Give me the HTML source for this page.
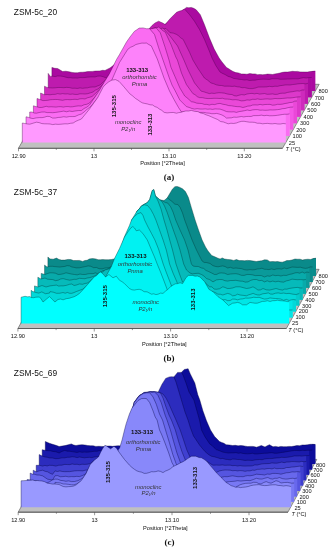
<!DOCTYPE html><html><head><meta charset="utf-8"><title>ZSM-5c</title>
<style>html,body{margin:0;padding:0;background:#fff;}svg{display:block;}
text{font-family:"Liberation Sans",sans-serif;fill:#111;}
.ax{font-size:5.65px;} .tt{font-size:8.4px;} .cap{font-family:"Liberation Serif",serif;font-weight:bold;font-size:9px;}
.bl{font-size:6px;font-weight:bold;} .it{font-size:5.9px;font-style:italic;fill:#333;}
</style></head><body>
<svg width="336" height="550" viewBox="0 0 336 550">
<rect width="336" height="550" fill="#fff"/>
<g id="chart-a">
<polygon points="18.4,148.3 282.5,148.3 319.2,84.3 55.1,84.3" fill="#C0C0C0" stroke="#505050" stroke-width="0.6"/>
<path d="M51.9,90.9 L51.9,67.4 L54.75,68.32 L57.6,68.5 L60.1,70 L62.6,71.5 L65.85,71.24 L69.1,71.8 L72.05,72.42 L75,72.8 L77.57,72.76 L80.13,72.27 L82.7,72.2 L85.15,71.96 L87.6,71.57 L90.05,71.47 L92.5,71.4 L95,71.09 L97.5,70.94 L100,70.89 L102.5,70.31 L105,70.5 L107.5,69.17 L110,68 L184.5,9 L186.4,7.4 L188.85,7.72 L191.3,7.4 L193.75,8.37 L196.2,9.8 L200.3,14.7 L204.4,24.5 L209.3,37.6 L214.2,49.1 L219.1,58 L222,62 L226.5,67.5 L228.7,68.74 L230.9,70.25 L233.1,71.5 L235.83,72.61 L238.57,72.94 L241.3,73.9 L244.15,74.04 L247,74.22 L249.85,73.6 L252.7,73.9 L255.18,73.89 L257.65,74.65 L260.12,74.45 L262.6,74.7 L265.08,74.51 L267.56,74.12 L270.04,74.23 L272.52,74.49 L275,73.9 L277.5,73.56 L280,73.03 L282.5,72.36 L285,72 L287.5,72.06 L290,71.64 L292.5,71.32 L295,71.5 L297.5,71.39 L300,71.88 L302.5,71.94 L305,72 L307.55,71.98 L310.1,71.58 L312.65,71.37 L315.2,71 L315.2,90.9 Z" fill="#AA0AA0"/>
<polygon points="311.7,71.45 312.65,71.37 315.2,71 315.2,90.9 311.7,90.9" fill="#AA0AA0"/>
<path d="M51.9,90.9 L51.9,67.4 L54.75,68.32 L57.6,68.5 L60.1,70 L62.6,71.5 L65.85,71.24 L69.1,71.8 L72.05,72.42 L75,72.8 L77.57,72.76 L80.13,72.27 L82.7,72.2 L85.15,71.96 L87.6,71.57 L90.05,71.47 L92.5,71.4 L95,71.09 L97.5,70.94 L100,70.89 L102.5,70.31 L105,70.5 L107.5,69.17 L110,68 L184.5,9 L186.4,7.4 L188.85,7.72 L191.3,7.4 L193.75,8.37 L196.2,9.8 L200.3,14.7 L204.4,24.5 L209.3,37.6 L214.2,49.1 L219.1,58 L222,62 L226.5,67.5 L228.7,68.74 L230.9,70.25 L233.1,71.5 L235.83,72.61 L238.57,72.94 L241.3,73.9 L244.15,74.04 L247,74.22 L249.85,73.6 L252.7,73.9 L255.18,73.89 L257.65,74.65 L260.12,74.45 L262.6,74.7 L265.08,74.51 L267.56,74.12 L270.04,74.23 L272.52,74.49 L275,73.9 L277.5,73.56 L280,73.03 L282.5,72.36 L285,72 L287.5,72.06 L290,71.64 L292.5,71.32 L295,71.5 L297.5,71.39 L300,71.88 L302.5,71.94 L305,72 L307.55,71.98 L310.1,71.58 L312.65,71.37 L315.2,71" fill="none" stroke="rgba(70,0,70,0.7)" stroke-width="0.55" stroke-linejoin="round"/>
<path d="M48.2,97.35 L48.2,73.4 L50.3,76.4 L52.73,76.21 L55.17,76.58 L57.6,76 L60.33,76.11 L63.07,76.38 L65.8,77.2 L68.1,77.69 L70.4,77.68 L72.7,78.07 L75,78 L77.5,78.11 L80,77.54 L82.5,77.6 L85,77.5 L87.5,77.14 L90,76.97 L92.5,76.91 L95,77 L97.5,76.16 L100,76 L103,76.62 L106,78 L152,25.5 L155,23 L158.6,21.2 L162.7,23 L165.2,24.6 L170,18.8 L176.5,12.3 L179,11.21 L181.5,10.6 L184.5,9 L189.6,14.7 L194.5,21.3 L199.5,29.5 L204.4,39.3 L209.3,51 L212,58 L215.8,65.5 L220,72 L222.5,73.42 L225,74.5 L228.2,76.4 L230.93,77.14 L233.67,78.44 L236.4,78.8 L239.02,79.33 L241.64,79.52 L244.26,80 L246.88,79.82 L249.5,80.5 L252.35,80.26 L255.2,80.14 L258.05,79.56 L260.9,79.3 L263.72,79.17 L266.54,79.3 L269.36,79.43 L272.18,78.76 L275,78.8 L277.5,78.76 L280,79.26 L282.5,79.25 L285,79.15 L287.5,79.07 L290,79 L292.71,78.82 L295.43,78.84 L298.14,78.83 L300.85,78.16 L303.56,77.65 L306.27,78 L308.99,77.53 L311.7,77.5 L311.7,97.35 Z" fill="#BE1BAE"/>
<polygon points="308,77.7 308.99,77.53 311.7,77.5 311.7,97.35 308,97.35" fill="#AA0AA0"/>
<path d="M48.2,97.35 L48.2,73.4 L50.3,76.4 L52.73,76.21 L55.17,76.58 L57.6,76 L60.33,76.11 L63.07,76.38 L65.8,77.2 L68.1,77.69 L70.4,77.68 L72.7,78.07 L75,78 L77.5,78.11 L80,77.54 L82.5,77.6 L85,77.5 L87.5,77.14 L90,76.97 L92.5,76.91 L95,77 L97.5,76.16 L100,76 L103,76.62 L106,78 L152,25.5 L155,23 L158.6,21.2 L162.7,23 L165.2,24.6 L170,18.8 L176.5,12.3 L179,11.21 L181.5,10.6 L184.5,9 L189.6,14.7 L194.5,21.3 L199.5,29.5 L204.4,39.3 L209.3,51 L212,58 L215.8,65.5 L220,72 L222.5,73.42 L225,74.5 L228.2,76.4 L230.93,77.14 L233.67,78.44 L236.4,78.8 L239.02,79.33 L241.64,79.52 L244.26,80 L246.88,79.82 L249.5,80.5 L252.35,80.26 L255.2,80.14 L258.05,79.56 L260.9,79.3 L263.72,79.17 L266.54,79.3 L269.36,79.43 L272.18,78.76 L275,78.8 L277.5,78.76 L280,79.26 L282.5,79.25 L285,79.15 L287.5,79.07 L290,79 L292.71,78.82 L295.43,78.84 L298.14,78.83 L300.85,78.16 L303.56,77.65 L306.27,78 L308.99,77.53 L311.7,77.5" fill="none" stroke="rgba(70,0,70,0.7)" stroke-width="0.55" stroke-linejoin="round"/>
<path d="M44.5,103.8 L44.5,86.2 L47,87.4 L49.5,87.8 L52.35,87.98 L55.2,87.81 L58.05,87.47 L60.9,87.5 L63.72,87.71 L66.54,87.39 L69.36,87.56 L72.18,88.27 L75,88.2 L77.5,88.45 L80,87.9 L82.5,88.34 L85,88 L87.5,87.85 L90,87.17 L92.5,87.01 L95,87 L97.5,85.94 L100,85 L160,30 L163,28.9 L166,28.5 L170,32.7 L173.25,33.11 L176.5,34.4 L178.7,35.9 L180.9,38.04 L183.1,39.3 L189.6,52.4 L192.9,60 L197.8,68.2 L204.4,78 L207.65,80.19 L210.9,82.9 L213.63,83.7 L216.37,84.86 L219.1,85.4 L221.78,85.5 L224.45,86.2 L227.12,86.14 L229.8,86.2 L232.25,86.41 L234.7,86.15 L237.15,86.8 L239.6,87 L242.07,87.73 L244.55,87.57 L247.03,88.16 L249.5,88.6 L252.35,88.58 L255.2,88.1 L258.05,87.08 L260.9,87 L263.72,87 L266.54,86.92 L269.36,86.37 L272.18,86.71 L275,86.2 L277.5,86.36 L280,85.69 L282.5,85.4 L285,84.98 L287.5,84.91 L290,85 L292.57,84.55 L295.14,84.3 L297.71,83.89 L300.29,83.66 L302.86,83.5 L305.43,83.88 L308,83.3 L308,103.8 Z" fill="#CE2ABC"/>
<polygon points="304.4,83.73 305.43,83.88 308,83.3 308,103.8 304.4,103.8" fill="#BE1BAE"/>
<path d="M44.5,103.8 L44.5,86.2 L47,87.4 L49.5,87.8 L52.35,87.98 L55.2,87.81 L58.05,87.47 L60.9,87.5 L63.72,87.71 L66.54,87.39 L69.36,87.56 L72.18,88.27 L75,88.2 L77.5,88.45 L80,87.9 L82.5,88.34 L85,88 L87.5,87.85 L90,87.17 L92.5,87.01 L95,87 L97.5,85.94 L100,85 L160,30 L163,28.9 L166,28.5 L170,32.7 L173.25,33.11 L176.5,34.4 L178.7,35.9 L180.9,38.04 L183.1,39.3 L189.6,52.4 L192.9,60 L197.8,68.2 L204.4,78 L207.65,80.19 L210.9,82.9 L213.63,83.7 L216.37,84.86 L219.1,85.4 L221.78,85.5 L224.45,86.2 L227.12,86.14 L229.8,86.2 L232.25,86.41 L234.7,86.15 L237.15,86.8 L239.6,87 L242.07,87.73 L244.55,87.57 L247.03,88.16 L249.5,88.6 L252.35,88.58 L255.2,88.1 L258.05,87.08 L260.9,87 L263.72,87 L266.54,86.92 L269.36,86.37 L272.18,86.71 L275,86.2 L277.5,86.36 L280,85.69 L282.5,85.4 L285,84.98 L287.5,84.91 L290,85 L292.57,84.55 L295.14,84.3 L297.71,83.89 L300.29,83.66 L302.86,83.5 L305.43,83.88 L308,83.3" fill="none" stroke="rgba(70,0,70,0.7)" stroke-width="0.55" stroke-linejoin="round"/>
<path d="M40.6,110.25 L40.6,93 L44.5,94.7 L47.23,94.51 L49.97,94.78 L52.7,94.4 L55.18,94.37 L57.65,93.62 L60.12,94.08 L62.6,93.6 L65.08,93.98 L67.56,93.84 L70.04,94.31 L72.52,94.04 L75,94.4 L77.5,94.45 L80,93.81 L82.5,93.86 L85,94 L87.67,93.68 L90.33,92.86 L93,92 L95.5,90.08 L98,89 L158,29 L160.5,28.78 L163,28 L170,36 L177.5,45.9 L183.9,60 L188,69.8 L194.5,82.9 L201.1,91.1 L203.83,91.81 L206.57,92.73 L209.3,93.6 L211.75,93.15 L214.2,93.45 L216.65,93 L219.1,92.7 L221.78,92.89 L224.45,93.14 L227.12,93.96 L229.8,94.4 L232,94.5 L234.2,95.68 L236.4,96 L239.02,95.2 L241.64,94.6 L244.26,94.96 L246.88,94.03 L249.5,93.6 L252,93.39 L254.5,93.86 L257,93.35 L259.5,94.12 L262,93.8 L264.6,93.54 L267.2,94.31 L269.8,94.2 L272.4,93.92 L275,94.4 L277.5,94.29 L280,93.39 L282.5,93.2 L285,93.21 L287.5,92.42 L290,92 L292.4,91.68 L294.8,91.24 L297.2,90.87 L299.6,91.1 L302,90 L304.4,90 L304.4,110.25 Z" fill="#DC38CA"/>
<polygon points="300.7,90.6 302,90 304.4,90 304.4,110.25 300.7,110.25" fill="#CE2ABC"/>
<path d="M40.6,110.25 L40.6,93 L44.5,94.7 L47.23,94.51 L49.97,94.78 L52.7,94.4 L55.18,94.37 L57.65,93.62 L60.12,94.08 L62.6,93.6 L65.08,93.98 L67.56,93.84 L70.04,94.31 L72.52,94.04 L75,94.4 L77.5,94.45 L80,93.81 L82.5,93.86 L85,94 L87.67,93.68 L90.33,92.86 L93,92 L95.5,90.08 L98,89 L158,29 L160.5,28.78 L163,28 L170,36 L177.5,45.9 L183.9,60 L188,69.8 L194.5,82.9 L201.1,91.1 L203.83,91.81 L206.57,92.73 L209.3,93.6 L211.75,93.15 L214.2,93.45 L216.65,93 L219.1,92.7 L221.78,92.89 L224.45,93.14 L227.12,93.96 L229.8,94.4 L232,94.5 L234.2,95.68 L236.4,96 L239.02,95.2 L241.64,94.6 L244.26,94.96 L246.88,94.03 L249.5,93.6 L252,93.39 L254.5,93.86 L257,93.35 L259.5,94.12 L262,93.8 L264.6,93.54 L267.2,94.31 L269.8,94.2 L272.4,93.92 L275,94.4 L277.5,94.29 L280,93.39 L282.5,93.2 L285,93.21 L287.5,92.42 L290,92 L292.4,91.68 L294.8,91.24 L297.2,90.87 L299.6,91.1 L302,90 L304.4,90" fill="none" stroke="rgba(70,0,70,0.7)" stroke-width="0.55" stroke-linejoin="round"/>
<path d="M37,116.7 L37,98.5 L39.95,99.45 L42.9,100.6 L45.35,100.51 L47.8,100.3 L50.25,99.76 L52.7,99.6 L55.18,99.48 L57.65,99.52 L60.12,99.94 L62.6,100.3 L65.08,99.69 L67.56,99.57 L70.04,99.74 L72.52,99.49 L75,99.3 L77.5,99.54 L80,98.81 L82.5,98.69 L85,99 L87.33,97.83 L89.67,97.25 L92,96.5 L97,92 L152,29 L154.2,28.04 L156.4,27.98 L158.6,27.1 L160.8,28.81 L163,30.82 L165.2,32 L170.9,44.3 L175.8,57 L177.4,60 L181.5,73.1 L186.4,84.5 L192.9,93.6 L195.1,94.74 L197.3,96.68 L199.5,97.6 L202.35,97.67 L205.2,98.3 L208.05,98.58 L210.9,98.5 L213.93,98.32 L216.97,98.34 L220,98.5 L222.45,98.26 L224.9,99.03 L227.35,99.1 L229.8,99.3 L232.68,99.83 L235.55,99.66 L238.43,100.07 L241.3,100.9 L244.15,100.71 L247,99.91 L249.85,100.14 L252.7,99.3 L255.16,99.4 L257.62,98.89 L260.08,99.39 L262.54,99.31 L265,99 L267.5,98.91 L270,99.16 L272.5,98.99 L275,98.5 L277.5,98.67 L280,98.63 L282.5,98.43 L285,98.21 L287.5,97.95 L290,98 L292.68,97.73 L295.35,97.31 L298.02,96.94 L300.7,96.8 L300.7,116.7 Z" fill="#EA48D8"/>
<polygon points="297,97.08 298.02,96.94 300.7,96.8 300.7,116.7 297,116.7" fill="#DC38CA"/>
<path d="M37,116.7 L37,98.5 L39.95,99.45 L42.9,100.6 L45.35,100.51 L47.8,100.3 L50.25,99.76 L52.7,99.6 L55.18,99.48 L57.65,99.52 L60.12,99.94 L62.6,100.3 L65.08,99.69 L67.56,99.57 L70.04,99.74 L72.52,99.49 L75,99.3 L77.5,99.54 L80,98.81 L82.5,98.69 L85,99 L87.33,97.83 L89.67,97.25 L92,96.5 L97,92 L152,29 L154.2,28.04 L156.4,27.98 L158.6,27.1 L160.8,28.81 L163,30.82 L165.2,32 L170.9,44.3 L175.8,57 L177.4,60 L181.5,73.1 L186.4,84.5 L192.9,93.6 L195.1,94.74 L197.3,96.68 L199.5,97.6 L202.35,97.67 L205.2,98.3 L208.05,98.58 L210.9,98.5 L213.93,98.32 L216.97,98.34 L220,98.5 L222.45,98.26 L224.9,99.03 L227.35,99.1 L229.8,99.3 L232.68,99.83 L235.55,99.66 L238.43,100.07 L241.3,100.9 L244.15,100.71 L247,99.91 L249.85,100.14 L252.7,99.3 L255.16,99.4 L257.62,98.89 L260.08,99.39 L262.54,99.31 L265,99 L267.5,98.91 L270,99.16 L272.5,98.99 L275,98.5 L277.5,98.67 L280,98.63 L282.5,98.43 L285,98.21 L287.5,97.95 L290,98 L292.68,97.73 L295.35,97.31 L298.02,96.94 L300.7,96.8" fill="none" stroke="rgba(70,0,70,0.7)" stroke-width="0.55" stroke-linejoin="round"/>
<path d="M33.4,123.15 L33.4,105.8 L36.5,106.71 L39.6,107.5 L41.8,107.45 L44,106.94 L46.2,106.3 L48.65,106.92 L51.1,106.75 L53.55,106.92 L56,107.1 L58.45,106.73 L60.9,106.68 L63.35,107.11 L65.8,106.6 L68.1,106.57 L70.4,106.9 L72.7,106.76 L75,106.3 L78.2,105.89 L81.4,106 L84.1,104.74 L86.8,104.31 L89.5,103 L95,97 L150,29 L153.1,28.45 L156.2,27.9 L160.3,32.8 L165.2,47.6 L169,60 L170.9,67.2 L174.9,76.4 L179.8,87.8 L184.7,96 L186.9,97.7 L189.1,99.64 L191.3,101.7 L194.03,102.13 L196.77,103.18 L199.5,103.4 L201.95,103.56 L204.4,104.41 L206.85,104.38 L209.3,105 L211.98,104.31 L214.65,104.6 L217.32,103.74 L220,103.4 L222.88,104.28 L225.75,104.73 L228.62,105.59 L231.5,105.8 L234.35,106.3 L237.2,106.67 L240.05,106.71 L242.9,107.5 L245.35,106.92 L247.8,106.1 L250.25,105.93 L252.7,105 L255.16,104.9 L257.62,105.01 L260.08,104.39 L262.54,104.91 L265,104.5 L267.5,104.43 L270,104.38 L272.5,105.19 L275,105 L277.5,104.3 L280,104.38 L282.5,104.14 L285,103.5 L287.4,103.15 L289.8,102.5 L292.2,102.36 L294.6,101.18 L297,101 L297,123.15 Z" fill="#F457E6"/>
<polygon points="293.2,101.87 294.6,101.18 297,101 297,123.15 293.2,123.15" fill="#EA48D8"/>
<path d="M33.4,123.15 L33.4,105.8 L36.5,106.71 L39.6,107.5 L41.8,107.45 L44,106.94 L46.2,106.3 L48.65,106.92 L51.1,106.75 L53.55,106.92 L56,107.1 L58.45,106.73 L60.9,106.68 L63.35,107.11 L65.8,106.6 L68.1,106.57 L70.4,106.9 L72.7,106.76 L75,106.3 L78.2,105.89 L81.4,106 L84.1,104.74 L86.8,104.31 L89.5,103 L95,97 L150,29 L153.1,28.45 L156.2,27.9 L160.3,32.8 L165.2,47.6 L169,60 L170.9,67.2 L174.9,76.4 L179.8,87.8 L184.7,96 L186.9,97.7 L189.1,99.64 L191.3,101.7 L194.03,102.13 L196.77,103.18 L199.5,103.4 L201.95,103.56 L204.4,104.41 L206.85,104.38 L209.3,105 L211.98,104.31 L214.65,104.6 L217.32,103.74 L220,103.4 L222.88,104.28 L225.75,104.73 L228.62,105.59 L231.5,105.8 L234.35,106.3 L237.2,106.67 L240.05,106.71 L242.9,107.5 L245.35,106.92 L247.8,106.1 L250.25,105.93 L252.7,105 L255.16,104.9 L257.62,105.01 L260.08,104.39 L262.54,104.91 L265,104.5 L267.5,104.43 L270,104.38 L272.5,105.19 L275,105 L277.5,104.3 L280,104.38 L282.5,104.14 L285,103.5 L287.4,103.15 L289.8,102.5 L292.2,102.36 L294.6,101.18 L297,101" fill="none" stroke="rgba(70,0,70,0.7)" stroke-width="0.55" stroke-linejoin="round"/>
<path d="M29.7,129.6 L29.7,112 L31.93,111.98 L34.17,113.04 L36.4,113.2 L39.1,112.55 L41.8,112.05 L44.5,112 L47.23,112.59 L49.97,112.59 L52.7,112.7 L55.43,112.45 L58.17,112.03 L60.9,111.6 L63.72,111.12 L66.54,111.79 L69.36,111.07 L72.18,111.53 L75,111 L78.2,110.58 L81.4,110.5 L84.1,108.49 L86.8,107.17 L89.5,105 L95,97 L99,91 L104,82.5 L109,74.5 L111.4,69.8 L116.5,59.5 L119.5,54.5 L126.5,42 L130,37 L134.3,31.4 L136.75,29.8 L139.2,28.1 L143.1,27.9 L146.35,28.68 L149.6,28.7 L154.5,34.5 L158.6,47.6 L163,60 L169.3,78 L172,85 L175,90.5 L179.8,100 L186.4,106.6 L189.1,107.41 L191.8,108.48 L194.5,109.1 L197.23,108.66 L199.97,109.06 L202.7,109.1 L205.17,108.86 L207.64,109.23 L210.11,109.03 L212.59,109.4 L215.06,108.91 L217.53,109.06 L220,109.1 L223.25,110.2 L226.5,111.6 L228.97,111.84 L231.45,111.92 L233.93,111.79 L236.4,112.4 L239.1,111.61 L241.8,111.21 L244.5,110.7 L247.23,110.04 L249.97,110.55 L252.7,109.9 L255.16,109.64 L257.62,109.67 L260.08,110.19 L262.54,110.1 L265,110.3 L267.5,110.21 L270,109.92 L272.5,110.01 L275,109.9 L277.5,109.61 L280,109.35 L282.5,108.68 L285,108.5 L287.73,107.75 L290.47,107.19 L293.2,107 L293.2,129.6 Z" fill="#FA6CF2"/>
<polygon points="289.5,107.38 290.47,107.19 293.2,107 293.2,129.6 289.5,129.6" fill="#F457E6"/>
<path d="M29.7,129.6 L29.7,112 L31.93,111.98 L34.17,113.04 L36.4,113.2 L39.1,112.55 L41.8,112.05 L44.5,112 L47.23,112.59 L49.97,112.59 L52.7,112.7 L55.43,112.45 L58.17,112.03 L60.9,111.6 L63.72,111.12 L66.54,111.79 L69.36,111.07 L72.18,111.53 L75,111 L78.2,110.58 L81.4,110.5 L84.1,108.49 L86.8,107.17 L89.5,105 L95,97 L99,91 L104,82.5 L109,74.5 L111.4,69.8 L116.5,59.5 L119.5,54.5 L126.5,42 L130,37 L134.3,31.4 L136.75,29.8 L139.2,28.1 L143.1,27.9 L146.35,28.68 L149.6,28.7 L154.5,34.5 L158.6,47.6 L163,60 L169.3,78 L172,85 L175,90.5 L179.8,100 L186.4,106.6 L189.1,107.41 L191.8,108.48 L194.5,109.1 L197.23,108.66 L199.97,109.06 L202.7,109.1 L205.17,108.86 L207.64,109.23 L210.11,109.03 L212.59,109.4 L215.06,108.91 L217.53,109.06 L220,109.1 L223.25,110.2 L226.5,111.6 L228.97,111.84 L231.45,111.92 L233.93,111.79 L236.4,112.4 L239.1,111.61 L241.8,111.21 L244.5,110.7 L247.23,110.04 L249.97,110.55 L252.7,109.9 L255.16,109.64 L257.62,109.67 L260.08,110.19 L262.54,110.1 L265,110.3 L267.5,110.21 L270,109.92 L272.5,110.01 L275,109.9 L277.5,109.61 L280,109.35 L282.5,108.68 L285,108.5 L287.73,107.75 L290.47,107.19 L293.2,107" fill="none" stroke="rgba(70,0,70,0.7)" stroke-width="0.55" stroke-linejoin="round"/>
<path d="M26,136.05 L26,116.8 L28.37,117.31 L30.73,118.16 L33.1,118.6 L36.35,117.87 L39.6,117.6 L42.08,117.63 L44.55,117.16 L47.02,116.34 L49.5,116.5 L52.7,118.1 L55.43,118.03 L58.17,117.46 L60.9,117.3 L63.72,116.72 L66.54,117.13 L69.36,116.57 L72.18,116.58 L75,116.5 L78.2,115.06 L81.4,114 L84.1,111.98 L86.8,109.5 L89.5,107.5 L92,105 L111.4,81 L119.5,62.5 L127.7,49.4 L130.43,47.34 L133.17,46.2 L135.9,44.5 L139.8,43.5 L142,43.07 L144.2,43.16 L146.4,43 L148.85,44.57 L151.3,45.9 L157.3,59 L164,78 L169.5,91 L174,99.5 L178.5,107.5 L181.5,112 L184,111.69 L186.5,112.28 L189,112.03 L191.5,112.23 L194,112.5 L196.5,112.08 L199,112.4 L201,112.4 L203.77,112.42 L206.53,112.96 L209.3,113.2 L211.75,113.71 L214.2,113.68 L216.65,113.42 L219.1,114 L222,115 L224.25,116.25 L226.5,118.1 L228.97,117.94 L231.45,117.8 L233.93,117.12 L236.4,117.3 L238.85,116.96 L241.3,116.51 L243.75,116.95 L246.2,116.5 L248.65,116.43 L251.1,116.47 L253.55,115.63 L256,115.6 L258.71,115.55 L261.43,115.15 L264.14,115.69 L266.86,115.34 L269.57,115.78 L272.29,115.73 L275,115.6 L277.42,115.31 L279.83,114.94 L282.25,114.52 L284.67,114.26 L287.08,114.27 L289.5,113.9 L289.5,136.05 Z" fill="#FD82FA"/>
<polygon points="285.8,114.27 287.08,114.27 289.5,113.9 289.5,136.05 285.8,136.05" fill="#FA6CF2"/>
<path d="M26,136.05 L26,116.8 L28.37,117.31 L30.73,118.16 L33.1,118.6 L36.35,117.87 L39.6,117.6 L42.08,117.63 L44.55,117.16 L47.02,116.34 L49.5,116.5 L52.7,118.1 L55.43,118.03 L58.17,117.46 L60.9,117.3 L63.72,116.72 L66.54,117.13 L69.36,116.57 L72.18,116.58 L75,116.5 L78.2,115.06 L81.4,114 L84.1,111.98 L86.8,109.5 L89.5,107.5 L92,105 L111.4,81 L119.5,62.5 L127.7,49.4 L130.43,47.34 L133.17,46.2 L135.9,44.5 L139.8,43.5 L142,43.07 L144.2,43.16 L146.4,43 L148.85,44.57 L151.3,45.9 L157.3,59 L164,78 L169.5,91 L174,99.5 L178.5,107.5 L181.5,112 L184,111.69 L186.5,112.28 L189,112.03 L191.5,112.23 L194,112.5 L196.5,112.08 L199,112.4 L201,112.4 L203.77,112.42 L206.53,112.96 L209.3,113.2 L211.75,113.71 L214.2,113.68 L216.65,113.42 L219.1,114 L222,115 L224.25,116.25 L226.5,118.1 L228.97,117.94 L231.45,117.8 L233.93,117.12 L236.4,117.3 L238.85,116.96 L241.3,116.51 L243.75,116.95 L246.2,116.5 L248.65,116.43 L251.1,116.47 L253.55,115.63 L256,115.6 L258.71,115.55 L261.43,115.15 L264.14,115.69 L266.86,115.34 L269.57,115.78 L272.29,115.73 L275,115.6 L277.42,115.31 L279.83,114.94 L282.25,114.52 L284.67,114.26 L287.08,114.27 L289.5,113.9" fill="none" stroke="rgba(70,0,70,0.7)" stroke-width="0.55" stroke-linejoin="round"/>
<path d="M22.3,142.5 L22.3,123 L24.8,123.47 L27.3,123.96 L29.8,124.2 L32,123.52 L34.2,122.85 L36.4,122.2 L39.1,122.59 L41.8,123.57 L44.5,123.8 L47.23,123.85 L49.97,123.97 L52.7,124.6 L55.47,124.17 L58.23,124.39 L61,124.2 L65,123.8 L67.73,123.86 L70.47,123.3 L73.2,123 L75.93,121.25 L78.67,120.11 L81.4,119 L89.5,109 L97.7,97.6 L103.2,87 L106,84 L108.95,81.69 L111.9,80.1 L115.5,79.6 L119,81.3 L123.8,86.7 L129.8,93.8 L132.75,96.03 L135.7,98.6 L137.85,99.9 L140,101.5 L142.25,102.82 L144.5,103.4 L147.23,103.92 L149.97,104.75 L152.7,105 L154.9,106.61 L157.1,107.32 L159.3,109 L161.75,110.37 L164.2,112.4 L167.1,112.9 L170,112.6 L173.25,112.45 L176.5,113.2 L178.7,112.61 L180.9,112.4 L183.1,111.6 L185.83,110.97 L188.57,111.03 L191.3,110.4 L194.55,111.34 L197.8,111.6 L200.53,112.97 L203.27,113.55 L206,114.8 L208.73,115.69 L211.47,116.86 L214.2,118.1 L217.45,119.43 L220.7,121.6 L223.2,121.9 L225.7,122.83 L228.2,123.8 L230.93,123.25 L233.67,123.48 L236.4,123 L238.85,122.05 L241.3,121.4 L244.03,121.27 L246.77,121.76 L249.5,122.2 L252.12,122.18 L254.74,122.41 L257.36,123.25 L259.98,123.25 L262.6,123.8 L265.08,123.53 L267.56,123.4 L270.04,123.72 L272.52,123.82 L275,123.5 L277.7,123.97 L280.4,124.03 L283.1,123.49 L285.8,123.8 L285.8,142.5 Z" fill="#FF99FF"/>
<path d="M22.3,142.5 L22.3,123 L24.8,123.47 L27.3,123.96 L29.8,124.2 L32,123.52 L34.2,122.85 L36.4,122.2 L39.1,122.59 L41.8,123.57 L44.5,123.8 L47.23,123.85 L49.97,123.97 L52.7,124.6 L55.47,124.17 L58.23,124.39 L61,124.2 L65,123.8 L67.73,123.86 L70.47,123.3 L73.2,123 L75.93,121.25 L78.67,120.11 L81.4,119 L89.5,109 L97.7,97.6 L103.2,87 L106,84 L108.95,81.69 L111.9,80.1 L115.5,79.6 L119,81.3 L123.8,86.7 L129.8,93.8 L132.75,96.03 L135.7,98.6 L137.85,99.9 L140,101.5 L142.25,102.82 L144.5,103.4 L147.23,103.92 L149.97,104.75 L152.7,105 L154.9,106.61 L157.1,107.32 L159.3,109 L161.75,110.37 L164.2,112.4 L167.1,112.9 L170,112.6 L173.25,112.45 L176.5,113.2 L178.7,112.61 L180.9,112.4 L183.1,111.6 L185.83,110.97 L188.57,111.03 L191.3,110.4 L194.55,111.34 L197.8,111.6 L200.53,112.97 L203.27,113.55 L206,114.8 L208.73,115.69 L211.47,116.86 L214.2,118.1 L217.45,119.43 L220.7,121.6 L223.2,121.9 L225.7,122.83 L228.2,123.8 L230.93,123.25 L233.67,123.48 L236.4,123 L238.85,122.05 L241.3,121.4 L244.03,121.27 L246.77,121.76 L249.5,122.2 L252.12,122.18 L254.74,122.41 L257.36,123.25 L259.98,123.25 L262.6,123.8 L265.08,123.53 L267.56,123.4 L270.04,123.72 L272.52,123.82 L275,123.5 L277.7,123.97 L280.4,124.03 L283.1,123.49 L285.8,123.8" fill="none" stroke="rgba(70,0,70,0.7)" stroke-width="0.55" stroke-linejoin="round"/>
</g>
<g id="chart-b">
<polygon points="17.9,328.5 286.4,328.5 319.1,269.3 50.6,269.3" fill="#C0C0C0" stroke="#505050" stroke-width="0.6"/>
<path d="M47.9,275.96 L47.9,257 L50,258.9 L53.25,259.23 L56.5,258.1 L59,259.53 L61.5,260.1 L64.75,260.07 L68,259.4 L70.73,259.61 L73.47,260.52 L76.2,260.5 L79.45,260.43 L82.7,261.4 L84.9,260.47 L87.1,260.33 L89.3,258.9 L92.55,258.59 L95.8,258.9 L98.1,259.75 L100.4,259.77 L102.7,259.55 L105,259.7 L108.2,259.79 L111.4,259.5 L114.25,258.91 L117.1,258 L164.5,201 L166,200 L170.4,192.5 L172.6,188.9 L174.9,186.7 L177,186.4 L179.4,187.2 L182.5,188.8 L185.4,191.5 L188.4,197.5 L191.3,207.4 L195.1,220 L198.5,230 L202.1,240 L205.5,247 L208,251 L211.7,255.5 L214.8,256.8 L217.9,258.2 L220.1,258.98 L222.3,257.95 L224.5,259 L227.75,259.48 L231,259.8 L233.73,260.43 L236.47,259.56 L239.2,260.6 L241.9,260.6 L244.6,260.78 L247.3,260.4 L250,260.6 L253.2,261.02 L256.4,261.5 L259.1,261.04 L261.8,260.75 L264.5,259.8 L267.23,259.88 L269.97,261.67 L272.7,261.5 L275.13,261.69 L277.57,261.55 L280,262 L282.27,262.16 L284.55,261.49 L286.83,260.53 L289.1,260.6 L292.05,259.95 L295,259 L297.5,259.21 L300,259.18 L302.5,260.02 L305,259.5 L307.75,259.21 L310.5,259.48 L313.25,258.58 L316,258.2 L316,275.96 Z" fill="#0A8A8A"/>
<polygon points="312.65,258.78 313.25,258.58 316,258.2 316,275.96 312.65,275.96" fill="#0A8A8A"/>
<path d="M47.9,275.96 L47.9,257 L50,258.9 L53.25,259.23 L56.5,258.1 L59,259.53 L61.5,260.1 L64.75,260.07 L68,259.4 L70.73,259.61 L73.47,260.52 L76.2,260.5 L79.45,260.43 L82.7,261.4 L84.9,260.47 L87.1,260.33 L89.3,258.9 L92.55,258.59 L95.8,258.9 L98.1,259.75 L100.4,259.77 L102.7,259.55 L105,259.7 L108.2,259.79 L111.4,259.5 L114.25,258.91 L117.1,258 L164.5,201 L166,200 L170.4,192.5 L172.6,188.9 L174.9,186.7 L177,186.4 L179.4,187.2 L182.5,188.8 L185.4,191.5 L188.4,197.5 L191.3,207.4 L195.1,220 L198.5,230 L202.1,240 L205.5,247 L208,251 L211.7,255.5 L214.8,256.8 L217.9,258.2 L220.1,258.98 L222.3,257.95 L224.5,259 L227.75,259.48 L231,259.8 L233.73,260.43 L236.47,259.56 L239.2,260.6 L241.9,260.6 L244.6,260.78 L247.3,260.4 L250,260.6 L253.2,261.02 L256.4,261.5 L259.1,261.04 L261.8,260.75 L264.5,259.8 L267.23,259.88 L269.97,261.67 L272.7,261.5 L275.13,261.69 L277.57,261.55 L280,262 L282.27,262.16 L284.55,261.49 L286.83,260.53 L289.1,260.6 L292.05,259.95 L295,259 L297.5,259.21 L300,259.18 L302.5,260.02 L305,259.5 L307.75,259.21 L310.5,259.48 L313.25,258.58 L316,258.2" fill="none" stroke="rgba(0,50,50,0.7)" stroke-width="0.55" stroke-linejoin="round"/>
<path d="M44.55,281.89 L44.55,265.1 L47,267 L50,266.3 L52.45,266.29 L54.9,266.61 L57.35,266.82 L59.8,267.1 L62.25,266.68 L64.7,266.46 L67.15,265.63 L69.6,265.9 L71.8,266.98 L74,267.35 L76.2,267.9 L79.45,267.81 L82.7,267.1 L85.43,266.56 L88.17,265.9 L90.9,266.3 L93.63,267.68 L96.37,267.48 L99.1,268.7 L102.05,268.9 L105,268 L107.97,267.9 L110.93,267.06 L113.9,266 L117.1,258 L160,200 L164,200.5 L167.5,197.9 L169.7,199.74 L171.9,201.4 L174.9,204.2 L177.9,204.6 L180.1,207.4 L182.5,213 L184.7,220 L188.4,230 L192.1,240 L196.5,250 L199.5,256 L202.1,261 L204.2,262.45 L206.3,262.5 L210.1,263.5 L212.95,265.67 L215.8,266.5 L218.1,266.79 L220.4,266.34 L222.7,265.91 L225,266.5 L227.7,268 L230.43,267.31 L233.17,268.33 L235.9,268 L238.63,268.37 L241.37,268.59 L244.1,269.6 L247.05,270.05 L250,269.6 L252.4,269.84 L254.8,269.68 L257.2,268.99 L259.6,268.8 L261.95,268.21 L264.3,269.23 L266.65,269.36 L269,269.6 L271.57,268.96 L274.15,269.55 L276.73,268.92 L279.3,268.8 L281.75,269.11 L284.2,267.96 L286.65,268.68 L289.1,268 L292.05,267.02 L295,267.2 L297.67,267.4 L300.33,267.18 L303,268 L305.41,268.36 L307.82,268.07 L310.24,266.9 L312.65,267 L312.65,281.89 Z" fill="#0A9A9A"/>
<polygon points="309.3,267.36 310.24,266.9 312.65,267 312.65,281.89 309.3,281.89" fill="#0A8A8A"/>
<path d="M44.55,281.89 L44.55,265.1 L47,267 L50,266.3 L52.45,266.29 L54.9,266.61 L57.35,266.82 L59.8,267.1 L62.25,266.68 L64.7,266.46 L67.15,265.63 L69.6,265.9 L71.8,266.98 L74,267.35 L76.2,267.9 L79.45,267.81 L82.7,267.1 L85.43,266.56 L88.17,265.9 L90.9,266.3 L93.63,267.68 L96.37,267.48 L99.1,268.7 L102.05,268.9 L105,268 L107.97,267.9 L110.93,267.06 L113.9,266 L117.1,258 L160,200 L164,200.5 L167.5,197.9 L169.7,199.74 L171.9,201.4 L174.9,204.2 L177.9,204.6 L180.1,207.4 L182.5,213 L184.7,220 L188.4,230 L192.1,240 L196.5,250 L199.5,256 L202.1,261 L204.2,262.45 L206.3,262.5 L210.1,263.5 L212.95,265.67 L215.8,266.5 L218.1,266.79 L220.4,266.34 L222.7,265.91 L225,266.5 L227.7,268 L230.43,267.31 L233.17,268.33 L235.9,268 L238.63,268.37 L241.37,268.59 L244.1,269.6 L247.05,270.05 L250,269.6 L252.4,269.84 L254.8,269.68 L257.2,268.99 L259.6,268.8 L261.95,268.21 L264.3,269.23 L266.65,269.36 L269,269.6 L271.57,268.96 L274.15,269.55 L276.73,268.92 L279.3,268.8 L281.75,269.11 L284.2,267.96 L286.65,268.68 L289.1,268 L292.05,267.02 L295,267.2 L297.67,267.4 L300.33,267.18 L303,268 L305.41,268.36 L307.82,268.07 L310.24,266.9 L312.65,267" fill="none" stroke="rgba(0,50,50,0.7)" stroke-width="0.55" stroke-linejoin="round"/>
<path d="M41.2,287.82 L41.2,273.4 L45,274.5 L47.5,273.52 L50,272.8 L52.73,272.84 L55.47,273.23 L58.2,274.5 L60.8,274.32 L63.4,273.74 L66,272.8 L68.83,273.45 L71.67,274.1 L74.5,274.5 L77.23,274.89 L79.97,274.06 L82.7,274.5 L85.43,274.48 L88.17,273.77 L90.9,273.6 L93.1,273.66 L95.3,272.88 L97.5,273.6 L100,272.5 L102.78,270.71 L105.56,269.93 L108.34,268.95 L111.12,266.66 L113.9,266 L117.1,258 L155.5,196.1 L159.5,199.4 L163,201.2 L165.25,202.54 L167.5,202.9 L170.5,206.5 L173,212 L175.7,220 L180,230 L184.6,240 L188,250 L191.4,264 L193,266 L195,266.4 L198.25,266.48 L201.5,268 L203.7,268.4 L205.9,270.46 L208.1,271.3 L211.35,272.88 L214.6,274.5 L216.8,274.38 L219,273.15 L221.2,272.9 L224.45,273.2 L227.7,274.5 L230.43,274.04 L233.17,273.81 L235.9,273.7 L238.63,274.26 L241.37,275.34 L244.1,275.4 L247.05,274.47 L250,274.5 L252.67,274.89 L255.33,275.61 L258,275.5 L261.25,275.55 L264.5,277 L267.23,275.88 L269.97,276.22 L272.7,275 L275.43,275.62 L278.17,275.36 L280.9,276 L283.63,275.32 L286.37,275.46 L289.1,274.5 L292.05,273.9 L295,272.9 L297.38,272.63 L299.77,273.18 L302.15,272 L304.53,273.15 L306.92,272.04 L309.3,272.5 L309.3,287.82 Z" fill="#08AAAA"/>
<polygon points="305.95,272.49 306.92,272.04 309.3,272.5 309.3,287.82 305.95,287.82" fill="#0A9A9A"/>
<path d="M41.2,287.82 L41.2,273.4 L45,274.5 L47.5,273.52 L50,272.8 L52.73,272.84 L55.47,273.23 L58.2,274.5 L60.8,274.32 L63.4,273.74 L66,272.8 L68.83,273.45 L71.67,274.1 L74.5,274.5 L77.23,274.89 L79.97,274.06 L82.7,274.5 L85.43,274.48 L88.17,273.77 L90.9,273.6 L93.1,273.66 L95.3,272.88 L97.5,273.6 L100,272.5 L102.78,270.71 L105.56,269.93 L108.34,268.95 L111.12,266.66 L113.9,266 L117.1,258 L155.5,196.1 L159.5,199.4 L163,201.2 L165.25,202.54 L167.5,202.9 L170.5,206.5 L173,212 L175.7,220 L180,230 L184.6,240 L188,250 L191.4,264 L193,266 L195,266.4 L198.25,266.48 L201.5,268 L203.7,268.4 L205.9,270.46 L208.1,271.3 L211.35,272.88 L214.6,274.5 L216.8,274.38 L219,273.15 L221.2,272.9 L224.45,273.2 L227.7,274.5 L230.43,274.04 L233.17,273.81 L235.9,273.7 L238.63,274.26 L241.37,275.34 L244.1,275.4 L247.05,274.47 L250,274.5 L252.67,274.89 L255.33,275.61 L258,275.5 L261.25,275.55 L264.5,277 L267.23,275.88 L269.97,276.22 L272.7,275 L275.43,275.62 L278.17,275.36 L280.9,276 L283.63,275.32 L286.37,275.46 L289.1,274.5 L292.05,273.9 L295,272.9 L297.38,272.63 L299.77,273.18 L302.15,272 L304.53,273.15 L306.92,272.04 L309.3,272.5" fill="none" stroke="rgba(0,50,50,0.7)" stroke-width="0.55" stroke-linejoin="round"/>
<path d="M37.85,293.75 L37.85,277.2 L41,279 L45,278 L47.5,279.18 L50,279.4 L52.73,279.57 L55.47,280.64 L58.2,280.2 L60.65,278.98 L63.1,278.6 L66.35,279.51 L69.6,280.2 L71.8,279.83 L74,279.27 L76.2,279.4 L79.45,278.32 L82.7,278.6 L84.9,278.72 L87.1,278.05 L89.3,277.7 L91.75,277.04 L94.2,276.1 L97,274.5 L99.78,273.57 L102.57,272.08 L105.35,269.87 L108.13,269.16 L110.92,268.11 L113.7,266 L116.9,258 L121.8,248 L126.8,236.5 L131.7,225.6 L133.8,220 L136.6,215.5 L136.9,211.2 L139.2,209 L141.5,205.9 L144.1,204.3 L147.3,202.6 L149.7,199.4 L152.2,190.6 L153.8,189.6 L155.5,196.1 L159.5,199.6 L162,201.5 L164.5,206 L167,212 L169.8,220 L173.3,230 L176.9,240 L180,250 L183.7,264 L186.5,270 L190,273 L192.5,273.91 L195,273.5 L198.25,273.29 L201.5,274.5 L204,276.03 L206.5,278.6 L209.75,279.64 L213,281.9 L216.25,279.98 L219.5,279.5 L222.23,279.59 L224.97,280.72 L227.7,281.1 L230.43,280.52 L233.17,280.52 L235.9,280.3 L240,281.1 L242.67,281.22 L245.33,282.13 L248,281.9 L250.8,280.34 L253.6,279.54 L256.4,279.5 L259.1,280.62 L261.8,280.41 L264.5,281.9 L267.23,280.85 L269.97,281.88 L272.7,281.1 L275.43,281.82 L278.17,281.27 L280.9,281.9 L283.63,282.14 L286.37,280.86 L289.1,280.3 L292.05,279.12 L295,279.5 L297.74,279.69 L300.48,279.59 L303.21,279.81 L305.95,279.5 L305.95,293.75 Z" fill="#06BABA"/>
<polygon points="302.6,279.76 303.21,279.81 305.95,279.5 305.95,293.75 302.6,293.75" fill="#08AAAA"/>
<path d="M37.85,293.75 L37.85,277.2 L41,279 L45,278 L47.5,279.18 L50,279.4 L52.73,279.57 L55.47,280.64 L58.2,280.2 L60.65,278.98 L63.1,278.6 L66.35,279.51 L69.6,280.2 L71.8,279.83 L74,279.27 L76.2,279.4 L79.45,278.32 L82.7,278.6 L84.9,278.72 L87.1,278.05 L89.3,277.7 L91.75,277.04 L94.2,276.1 L97,274.5 L99.78,273.57 L102.57,272.08 L105.35,269.87 L108.13,269.16 L110.92,268.11 L113.7,266 L116.9,258 L121.8,248 L126.8,236.5 L131.7,225.6 L133.8,220 L136.6,215.5 L136.9,211.2 L139.2,209 L141.5,205.9 L144.1,204.3 L147.3,202.6 L149.7,199.4 L152.2,190.6 L153.8,189.6 L155.5,196.1 L159.5,199.6 L162,201.5 L164.5,206 L167,212 L169.8,220 L173.3,230 L176.9,240 L180,250 L183.7,264 L186.5,270 L190,273 L192.5,273.91 L195,273.5 L198.25,273.29 L201.5,274.5 L204,276.03 L206.5,278.6 L209.75,279.64 L213,281.9 L216.25,279.98 L219.5,279.5 L222.23,279.59 L224.97,280.72 L227.7,281.1 L230.43,280.52 L233.17,280.52 L235.9,280.3 L240,281.1 L242.67,281.22 L245.33,282.13 L248,281.9 L250.8,280.34 L253.6,279.54 L256.4,279.5 L259.1,280.62 L261.8,280.41 L264.5,281.9 L267.23,280.85 L269.97,281.88 L272.7,281.1 L275.43,281.82 L278.17,281.27 L280.9,281.9 L283.63,282.14 L286.37,280.86 L289.1,280.3 L292.05,279.12 L295,279.5 L297.74,279.69 L300.48,279.59 L303.21,279.81 L305.95,279.5" fill="none" stroke="rgba(0,50,50,0.7)" stroke-width="0.55" stroke-linejoin="round"/>
<path d="M34.5,299.68 L34.5,285.9 L38,287 L42,285.5 L46,287 L50,285.9 L53.25,285.49 L56.5,285.1 L58.7,286.1 L60.9,285.85 L63.1,285.9 L66.35,285.37 L69.6,284.3 L71.8,284 L74,285.5 L76.2,285.1 L79.45,283.96 L82.7,284.3 L84.9,283.46 L87.1,283.19 L89.3,281.8 L92,279.5 L94.6,279.4 L97.2,278.25 L99.8,278.13 L102.4,277.66 L105,276.98 L107.6,277 L113.4,266 L116.6,258 L121.5,248 L126.5,236.5 L131.4,225.6 L133.5,220 L136.3,215.5 L136.9,211.2 L139.2,209 L141.5,205.9 L144.1,204.3 L147.3,202.6 L149.7,199.4 L152.2,190.6 L153.8,189.6 L155.5,196.1 L158,201 L161,209 L164,220 L167,230 L169.7,240 L172.5,250 L176,264 L179.5,274 L182.5,282 L184.98,282.68 L187.46,282.11 L189.93,282.02 L192.41,282.01 L194.89,282.48 L197.37,282.56 L199.84,282.98 L202.32,282.42 L204.8,282.5 L207.25,284.78 L209.7,286.8 L211.9,286.88 L214.1,289.06 L216.3,289.3 L219.55,288.76 L222.8,286.8 L225,287.46 L227.2,288.47 L229.4,288.5 L232.65,287.97 L235.9,286.8 L240,286.8 L243.25,287.67 L246.5,288.5 L249.75,287.99 L253,286.8 L255.5,288.25 L258,290.1 L260.5,289.87 L263,288.5 L266.25,289.82 L269.5,290.1 L272.75,289.35 L276,288.5 L279.25,289.51 L282.5,290.1 L284.7,289.1 L286.9,289.19 L289.1,288.5 L292.05,288 L295,287.6 L297.53,287.41 L300.07,287.95 L302.6,288 L302.6,299.68 Z" fill="#04CACA"/>
<polygon points="299.25,287.77 300.07,287.95 302.6,288 302.6,299.68 299.25,299.68" fill="#06BABA"/>
<path d="M34.5,299.68 L34.5,285.9 L38,287 L42,285.5 L46,287 L50,285.9 L53.25,285.49 L56.5,285.1 L58.7,286.1 L60.9,285.85 L63.1,285.9 L66.35,285.37 L69.6,284.3 L71.8,284 L74,285.5 L76.2,285.1 L79.45,283.96 L82.7,284.3 L84.9,283.46 L87.1,283.19 L89.3,281.8 L92,279.5 L94.6,279.4 L97.2,278.25 L99.8,278.13 L102.4,277.66 L105,276.98 L107.6,277 L113.4,266 L116.6,258 L121.5,248 L126.5,236.5 L131.4,225.6 L133.5,220 L136.3,215.5 L136.9,211.2 L139.2,209 L141.5,205.9 L144.1,204.3 L147.3,202.6 L149.7,199.4 L152.2,190.6 L153.8,189.6 L155.5,196.1 L158,201 L161,209 L164,220 L167,230 L169.7,240 L172.5,250 L176,264 L179.5,274 L182.5,282 L184.98,282.68 L187.46,282.11 L189.93,282.02 L192.41,282.01 L194.89,282.48 L197.37,282.56 L199.84,282.98 L202.32,282.42 L204.8,282.5 L207.25,284.78 L209.7,286.8 L211.9,286.88 L214.1,289.06 L216.3,289.3 L219.55,288.76 L222.8,286.8 L225,287.46 L227.2,288.47 L229.4,288.5 L232.65,287.97 L235.9,286.8 L240,286.8 L243.25,287.67 L246.5,288.5 L249.75,287.99 L253,286.8 L255.5,288.25 L258,290.1 L260.5,289.87 L263,288.5 L266.25,289.82 L269.5,290.1 L272.75,289.35 L276,288.5 L279.25,289.51 L282.5,290.1 L284.7,289.1 L286.9,289.19 L289.1,288.5 L292.05,288 L295,287.6 L297.53,287.41 L300.07,287.95 L302.6,288" fill="none" stroke="rgba(0,50,50,0.7)" stroke-width="0.55" stroke-linejoin="round"/>
<path d="M31.15,305.61 L31.15,290.3 L32.3,291.3 L35.9,292.5 L38.8,293.1 L41.8,291.9 L45.4,293.7 L49.5,293.1 L50,291.6 L53.25,292.18 L56.5,293.3 L59.75,293.25 L63,292.5 L65.2,293.22 L67.4,292.44 L69.6,293.3 L71.8,293.33 L74,292.56 L76.2,291.6 L79.45,290.41 L82.7,289.2 L86.8,285.9 L89.36,284.37 L91.92,283.65 L94.49,282.93 L97.05,282.07 L99.61,280.37 L102.17,279.43 L104.74,278.82 L107.3,277 L113.1,266 L116.3,258 L121.2,248 L126.2,236.5 L131.1,225.6 L131.5,220 L134.3,215.5 L136.9,211.2 L139.2,209 L141.5,205.9 L144.5,204.8 L147.5,205.5 L150.5,209 L153.5,214.5 L155.9,220 L159.5,230 L163.1,240 L166.3,250 L169.6,264 L173,273 L176.5,281 L180,290 L213,291.7 L215.45,292.64 L217.9,294.2 L220.35,294.25 L222.8,295 L225.25,294.18 L227.7,293.4 L230.15,294.08 L232.6,295.8 L235.1,295.51 L237.6,294.2 L240,295 L243.25,295.38 L246.5,295.8 L248.7,294.81 L250.9,294.2 L253.1,293.4 L255.27,294.34 L257.43,294.92 L259.6,295 L262.8,293.77 L266,293.4 L268.23,292.88 L270.47,294.06 L272.7,294.2 L275.43,293.22 L278.17,292.9 L280.9,293.4 L283.63,293.07 L286.37,293.57 L289.1,293.4 L293,294.2 L296.12,294.54 L299.25,293.5 L299.25,305.61 Z" fill="#02D8D8"/>
<polygon points="295.9,294.52 296.12,294.54 299.25,293.5 299.25,305.61 295.9,305.61" fill="#04CACA"/>
<path d="M31.15,305.61 L31.15,290.3 L32.3,291.3 L35.9,292.5 L38.8,293.1 L41.8,291.9 L45.4,293.7 L49.5,293.1 L50,291.6 L53.25,292.18 L56.5,293.3 L59.75,293.25 L63,292.5 L65.2,293.22 L67.4,292.44 L69.6,293.3 L71.8,293.33 L74,292.56 L76.2,291.6 L79.45,290.41 L82.7,289.2 L86.8,285.9 L89.36,284.37 L91.92,283.65 L94.49,282.93 L97.05,282.07 L99.61,280.37 L102.17,279.43 L104.74,278.82 L107.3,277 L113.1,266 L116.3,258 L121.2,248 L126.2,236.5 L131.1,225.6 L131.5,220 L134.3,215.5 L136.9,211.2 L139.2,209 L141.5,205.9 L144.5,204.8 L147.5,205.5 L150.5,209 L153.5,214.5 L155.9,220 L159.5,230 L163.1,240 L166.3,250 L169.6,264 L173,273 L176.5,281 L180,290 L213,291.7 L215.45,292.64 L217.9,294.2 L220.35,294.25 L222.8,295 L225.25,294.18 L227.7,293.4 L230.15,294.08 L232.6,295.8 L235.1,295.51 L237.6,294.2 L240,295 L243.25,295.38 L246.5,295.8 L248.7,294.81 L250.9,294.2 L253.1,293.4 L255.27,294.34 L257.43,294.92 L259.6,295 L262.8,293.77 L266,293.4 L268.23,292.88 L270.47,294.06 L272.7,294.2 L275.43,293.22 L278.17,292.9 L280.9,293.4 L283.63,293.07 L286.37,293.57 L289.1,293.4 L293,294.2 L296.12,294.54 L299.25,293.5" fill="none" stroke="rgba(0,50,50,0.7)" stroke-width="0.55" stroke-linejoin="round"/>
<path d="M27.8,311.54 L27.8,306 L104,306 L107,277 L112.8,266 L116,258 L120.9,248 L124.5,236.5 L129.4,225.6 L131.5,220 L134.3,216.5 L137.5,213.8 L141,212.6 L143,215.5 L144.6,220 L148,227 L151.5,233.5 L154.9,240 L158.5,249 L161,257 L163.2,264 L166.5,273 L170,282 L173,290 L177,300 L215,300 L217.6,299.46 L220.2,300.63 L222.8,299.9 L225.25,299.6 L227.7,300.7 L230.15,300.56 L232.6,299.1 L235.1,299.13 L237.6,299.9 L240,299.1 L242.73,298.89 L245.47,298.12 L248.2,298.15 L250.93,297.9 L253.67,297.22 L256.4,297.5 L259.1,297.3 L261.8,298.28 L264.5,299.1 L267.23,298.81 L269.97,297.95 L272.7,298.3 L275.43,298.49 L278.17,298.7 L280.9,299.1 L283.63,300.35 L286.37,299.38 L289.1,300.5 L291.37,299.87 L293.63,299.51 L295.9,300 L295.9,311.54 Z" fill="#00E6E6"/>
<polygon points="292.55,299.68 293.63,299.51 295.9,300 295.9,311.54 292.55,311.54" fill="#02D8D8"/>
<path d="M27.8,311.54 L27.8,306 L104,306 L107,277 L112.8,266 L116,258 L120.9,248 L124.5,236.5 L129.4,225.6 L131.5,220 L134.3,216.5 L137.5,213.8 L141,212.6 L143,215.5 L144.6,220 L148,227 L151.5,233.5 L154.9,240 L158.5,249 L161,257 L163.2,264 L166.5,273 L170,282 L173,290 L177,300 L215,300 L217.6,299.46 L220.2,300.63 L222.8,299.9 L225.25,299.6 L227.7,300.7 L230.15,300.56 L232.6,299.1 L235.1,299.13 L237.6,299.9 L240,299.1 L242.73,298.89 L245.47,298.12 L248.2,298.15 L250.93,297.9 L253.67,297.22 L256.4,297.5 L259.1,297.3 L261.8,298.28 L264.5,299.1 L267.23,298.81 L269.97,297.95 L272.7,298.3 L275.43,298.49 L278.17,298.7 L280.9,299.1 L283.63,300.35 L286.37,299.38 L289.1,300.5 L291.37,299.87 L293.63,299.51 L295.9,300" fill="none" stroke="rgba(0,50,50,0.7)" stroke-width="0.55" stroke-linejoin="round"/>
<path d="M24.45,317.47 L24.45,310 L104,310 L105.6,277 L111.4,266.4 L114.6,258.3 L119.5,248.5 L124.5,237 L128.5,231 L131,227.8 L132.8,226.5 L134.5,228 L136.3,230.8 L139.3,230 L142.9,233.5 L147.3,240 L151.5,250 L154.5,257 L157.2,264 L160.5,272 L164,281 L167,289 L170,297 L174,310 L292.55,310 L292.55,317.47 Z" fill="#00F2F2"/>
<polygon points="289.2,310 292.55,310 292.55,317.47 289.2,317.47" fill="#00E6E6"/>
<path d="M24.45,317.47 L24.45,310 L104,310 L105.6,277 L111.4,266.4 L114.6,258.3 L119.5,248.5 L124.5,237 L128.5,231 L131,227.8 L132.8,226.5 L134.5,228 L136.3,230.8 L139.3,230 L142.9,233.5 L147.3,240 L151.5,250 L154.5,257 L157.2,264 L160.5,272 L164,281 L167,289 L170,297 L174,310 L292.55,310" fill="none" stroke="rgba(0,50,50,0.7)" stroke-width="0.55" stroke-linejoin="round"/>
<path d="M21.1,323.4 L21.1,297.2 L25.1,296.3 L27.5,296.82 L29.9,296.6 L31.1,297.5 L33.5,297.71 L35.9,297.2 L39.4,297 L41.2,299 L43,302 L46.6,299 L49.5,296.6 L52.5,299.6 L54.9,302 L58,299.5 L60.55,299.07 L63.1,299.8 L66.35,298.69 L69.6,298.2 L71.8,297.44 L74,296.8 L76.2,295.7 L79.45,293.49 L82.7,290 L89.3,282.6 L94.2,276.9 L96.65,275.59 L99.1,272.8 L100.8,272 L103,274 L105.6,277 L108.9,274.5 L113,277.8 L116.3,276.2 L119.5,280.3 L122,281.66 L124.5,283.6 L129.4,288.5 L131.85,289.78 L134.3,290.1 L136.75,289.57 L139.2,289.3 L141.65,290.03 L144.1,291.7 L147.05,291.8 L150,293.4 L151.5,294.2 L153.7,293.81 L155.9,294.58 L158.1,294.2 L160.55,293.1 L163,293.4 L165.45,291.21 L167.9,289.3 L170.35,286.89 L172.8,285.2 L175.25,283.84 L177.7,283.6 L180.15,282.84 L182.6,283.6 L185.9,277.8 L188.4,275.4 L192.5,275.4 L195,276.2 L197.45,276.07 L199.9,277 L204.8,281.9 L208.9,289.3 L213,291.7 L217.9,296.6 L220.35,298.3 L222.8,299.9 L228.6,305.6 L232.6,303.2 L235.1,302.95 L237.6,302.4 L240.05,303.11 L242.5,304.8 L246.5,304.8 L250,302.4 L252.4,302.8 L254.8,303.2 L257.2,303.19 L259.6,302.4 L262.22,301.42 L264.84,301.35 L267.46,300.72 L270.08,301.49 L272.7,300.7 L275.13,300.63 L277.57,300.2 L280,300.7 L282.5,300.82 L285,301.07 L287.5,301.6 L289.2,301.6 L289.2,323.4 Z" fill="#00FFFF"/>
<path d="M21.1,323.4 L21.1,297.2 L25.1,296.3 L27.5,296.82 L29.9,296.6 L31.1,297.5 L33.5,297.71 L35.9,297.2 L39.4,297 L41.2,299 L43,302 L46.6,299 L49.5,296.6 L52.5,299.6 L54.9,302 L58,299.5 L60.55,299.07 L63.1,299.8 L66.35,298.69 L69.6,298.2 L71.8,297.44 L74,296.8 L76.2,295.7 L79.45,293.49 L82.7,290 L89.3,282.6 L94.2,276.9 L96.65,275.59 L99.1,272.8 L100.8,272 L103,274 L105.6,277 L108.9,274.5 L113,277.8 L116.3,276.2 L119.5,280.3 L122,281.66 L124.5,283.6 L129.4,288.5 L131.85,289.78 L134.3,290.1 L136.75,289.57 L139.2,289.3 L141.65,290.03 L144.1,291.7 L147.05,291.8 L150,293.4 L151.5,294.2 L153.7,293.81 L155.9,294.58 L158.1,294.2 L160.55,293.1 L163,293.4 L165.45,291.21 L167.9,289.3 L170.35,286.89 L172.8,285.2 L175.25,283.84 L177.7,283.6 L180.15,282.84 L182.6,283.6 L185.9,277.8 L188.4,275.4 L192.5,275.4 L195,276.2 L197.45,276.07 L199.9,277 L204.8,281.9 L208.9,289.3 L213,291.7 L217.9,296.6 L220.35,298.3 L222.8,299.9 L228.6,305.6 L232.6,303.2 L235.1,302.95 L237.6,302.4 L240.05,303.11 L242.5,304.8 L246.5,304.8 L250,302.4 L252.4,302.8 L254.8,303.2 L257.2,303.19 L259.6,302.4 L262.22,301.42 L264.84,301.35 L267.46,300.72 L270.08,301.49 L272.7,300.7 L275.13,300.63 L277.57,300.2 L280,300.7 L282.5,300.82 L285,301.07 L287.5,301.6 L289.2,301.6" fill="none" stroke="rgba(0,50,50,0.7)" stroke-width="0.55" stroke-linejoin="round"/>
</g>
<g id="chart-c">
<polygon points="18.2,512.2 287.9,512.2 316.8,459.4 47.1,459.4" fill="#C0C0C0" stroke="#505050" stroke-width="0.6"/>
<path d="M45.3,464 L45.3,441.5 L49.3,443.2 L51.75,444.05 L54.2,444.8 L56.65,445.55 L59.1,446.5 L62.05,446.06 L65,445.6 L68.2,444.77 L71.4,443.9 L73.7,445.05 L76,445.5 L79,444.91 L82,444.7 L84.85,444.97 L87.7,445.5 L90.43,445.69 L93.17,445.82 L95.9,446.4 L98.75,446.29 L101.6,446.4 L104.4,446.61 L107.2,446.08 L110,446 L112.75,446.36 L115.5,445.91 L118.25,445.71 L121,446 L125,446 L180,420 L181.3,372.4 L184.3,369.5 L188.1,368.7 L190.3,373.9 L194.8,382.9 L197.8,394.8 L199.8,400 L202.8,410.4 L206.5,420.8 L210.5,430 L214.6,436.5 L219.5,441.5 L221.7,442.47 L223.9,443.24 L226.1,444.7 L229.35,444.98 L232.6,445.5 L235.33,445.32 L238.07,445.86 L240.8,445.5 L243.1,445.81 L245.4,446.13 L247.7,446.62 L250,446.4 L253.2,446.41 L256.4,447.2 L258.85,446.4 L261.3,445.5 L265,447 L267.25,445.67 L269.5,444.7 L273,446.8 L275.63,446.38 L278.27,446.92 L280.9,446.4 L283.6,446.63 L286.3,446.64 L289,446.4 L291.67,446.54 L294.33,446.1 L297,445.5 L299.67,445.67 L302.33,444.94 L305,445 L307.57,444.76 L310.15,444.33 L312.73,444.3 L315.3,444.5 L315.3,464 Z" fill="#0C0C9A"/>
<polygon points="312.2,444.3 312.73,444.3 315.3,444.5 315.3,464 312.2,464" fill="#0C0C9A"/>
<path d="M45.3,464 L45.3,441.5 L49.3,443.2 L51.75,444.05 L54.2,444.8 L56.65,445.55 L59.1,446.5 L62.05,446.06 L65,445.6 L68.2,444.77 L71.4,443.9 L73.7,445.05 L76,445.5 L79,444.91 L82,444.7 L84.85,444.97 L87.7,445.5 L90.43,445.69 L93.17,445.82 L95.9,446.4 L98.75,446.29 L101.6,446.4 L104.4,446.61 L107.2,446.08 L110,446 L112.75,446.36 L115.5,445.91 L118.25,445.71 L121,446 L125,446 L180,420 L181.3,372.4 L184.3,369.5 L188.1,368.7 L190.3,373.9 L194.8,382.9 L197.8,394.8 L199.8,400 L202.8,410.4 L206.5,420.8 L210.5,430 L214.6,436.5 L219.5,441.5 L221.7,442.47 L223.9,443.24 L226.1,444.7 L229.35,444.98 L232.6,445.5 L235.33,445.32 L238.07,445.86 L240.8,445.5 L243.1,445.81 L245.4,446.13 L247.7,446.62 L250,446.4 L253.2,446.41 L256.4,447.2 L258.85,446.4 L261.3,445.5 L265,447 L267.25,445.67 L269.5,444.7 L273,446.8 L275.63,446.38 L278.27,446.92 L280.9,446.4 L283.6,446.63 L286.3,446.64 L289,446.4 L291.67,446.54 L294.33,446.1 L297,445.5 L299.67,445.67 L302.33,444.94 L305,445 L307.57,444.76 L310.15,444.33 L312.73,444.3 L315.3,444.5" fill="none" stroke="rgba(0,0,60,0.7)" stroke-width="0.55" stroke-linejoin="round"/>
<path d="M42.2,469.4 L42.2,449.7 L46,450.5 L48.2,450.68 L50.4,450.76 L52.6,451.4 L55.85,451.77 L59.1,453 L61.95,451.42 L64.8,450.5 L67.25,451.14 L69.7,451.3 L72.15,451.6 L74.6,452.1 L77.07,452.46 L79.55,451.84 L82.03,452.28 L84.5,452.1 L86.95,452.17 L89.4,452 L91.85,451.59 L94.3,451.3 L97.15,451.23 L100,450.5 L102.5,450.85 L105,451.2 L107.5,451.16 L110,451 L112.5,451.16 L115,451.14 L117.5,450.62 L120,451 L172,420 L173.9,376.9 L177.6,372.4 L181.3,372.4 L183,375 L186,383 L189,392 L193.9,400 L196.8,410.4 L199.5,420 L201.5,430 L204.8,436.5 L209.7,443.9 L211.9,445.41 L214.1,447.68 L216.3,449.6 L219.55,450.73 L222.8,452.1 L225.53,452.58 L228.27,453.05 L231,452.9 L233.45,452.9 L235.9,452.63 L238.35,453.23 L240.8,452.9 L243.1,453.46 L245.4,453.72 L247.7,453.85 L250,453.7 L252.4,453.26 L254.8,453.99 L257.2,453.99 L259.6,453.7 L262.08,453.46 L264.55,453.29 L267.02,453.16 L269.5,452.9 L271.95,452.7 L274.4,453.24 L276.85,453.29 L279.3,452.9 L281.75,452.43 L284.2,452.13 L286.65,451.71 L289.1,451.3 L291.73,450.9 L294.37,450.52 L297,450.5 L299.67,450.66 L302.33,450.32 L305,450.5 L307.4,450.3 L309.8,450.19 L312.2,450 L312.2,469.4 Z" fill="#1A1AAC"/>
<polygon points="309.2,450.22 309.8,450.19 312.2,450 312.2,469.4 309.2,469.4" fill="#0C0C9A"/>
<path d="M42.2,469.4 L42.2,449.7 L46,450.5 L48.2,450.68 L50.4,450.76 L52.6,451.4 L55.85,451.77 L59.1,453 L61.95,451.42 L64.8,450.5 L67.25,451.14 L69.7,451.3 L72.15,451.6 L74.6,452.1 L77.07,452.46 L79.55,451.84 L82.03,452.28 L84.5,452.1 L86.95,452.17 L89.4,452 L91.85,451.59 L94.3,451.3 L97.15,451.23 L100,450.5 L102.5,450.85 L105,451.2 L107.5,451.16 L110,451 L112.5,451.16 L115,451.14 L117.5,450.62 L120,451 L172,420 L173.9,376.9 L177.6,372.4 L181.3,372.4 L183,375 L186,383 L189,392 L193.9,400 L196.8,410.4 L199.5,420 L201.5,430 L204.8,436.5 L209.7,443.9 L211.9,445.41 L214.1,447.68 L216.3,449.6 L219.55,450.73 L222.8,452.1 L225.53,452.58 L228.27,453.05 L231,452.9 L233.45,452.9 L235.9,452.63 L238.35,453.23 L240.8,452.9 L243.1,453.46 L245.4,453.72 L247.7,453.85 L250,453.7 L252.4,453.26 L254.8,453.99 L257.2,453.99 L259.6,453.7 L262.08,453.46 L264.55,453.29 L267.02,453.16 L269.5,452.9 L271.95,452.7 L274.4,453.24 L276.85,453.29 L279.3,452.9 L281.75,452.43 L284.2,452.13 L286.65,451.71 L289.1,451.3 L291.73,450.9 L294.37,450.52 L297,450.5 L299.67,450.66 L302.33,450.32 L305,450.5 L307.4,450.3 L309.8,450.19 L312.2,450" fill="none" stroke="rgba(0,0,60,0.7)" stroke-width="0.55" stroke-linejoin="round"/>
<path d="M39.2,474.8 L39.2,454.6 L42.7,456.3 L44.9,456.95 L47.1,457.2 L49.3,457.9 L52.55,458.01 L55.8,458.7 L58.8,458.53 L61.8,457.86 L64.8,457.8 L67.25,457.3 L69.7,457.23 L72.15,456.76 L74.6,457 L77.07,457.61 L79.55,457 L82.03,457.46 L84.5,457.8 L86.95,457.47 L89.4,457.36 L91.85,457.58 L94.3,457 L98,456.5 L100.33,456.28 L102.67,456.82 L105,457 L107.5,457.03 L110,456.79 L112.5,456.83 L115,457.41 L117.5,456.76 L120,457 L156,420 L158,393 L159,390.4 L161.9,384.4 L165.7,378.4 L169.4,376.9 L171.65,376.76 L173.9,376.9 L176,382 L179,392 L182,402 L185,412 L188,420 L190.5,428 L193.5,436 L195,438.2 L199.9,445.5 L204.8,451.3 L207,453.25 L209.2,454.95 L211.4,456.2 L214.65,456.88 L217.9,457.8 L220.35,458.67 L222.8,458.46 L225.25,459.27 L227.7,459.5 L230.17,459.89 L232.65,459.07 L235.12,459.14 L237.6,459.5 L240.08,459.54 L242.56,460.07 L245.04,460.4 L247.52,460.21 L250,460.3 L252.4,460.44 L254.8,459.95 L257.2,459.66 L259.6,459.5 L262.08,459.7 L264.55,459.04 L267.02,458.66 L269.5,458.6 L271.95,458.54 L274.4,458.13 L276.85,457.9 L279.3,457.8 L281.75,457.27 L284.2,457.48 L286.65,457.37 L289.1,457 L291.73,456.57 L294.37,455.93 L297,456 L299.44,455.9 L301.88,456.12 L304.32,455.77 L306.76,455.55 L309.2,455.5 L309.2,474.8 Z" fill="#2C2CBE"/>
<polygon points="306.2,455.6 306.76,455.55 309.2,455.5 309.2,474.8 306.2,474.8" fill="#1A1AAC"/>
<path d="M39.2,474.8 L39.2,454.6 L42.7,456.3 L44.9,456.95 L47.1,457.2 L49.3,457.9 L52.55,458.01 L55.8,458.7 L58.8,458.53 L61.8,457.86 L64.8,457.8 L67.25,457.3 L69.7,457.23 L72.15,456.76 L74.6,457 L77.07,457.61 L79.55,457 L82.03,457.46 L84.5,457.8 L86.95,457.47 L89.4,457.36 L91.85,457.58 L94.3,457 L98,456.5 L100.33,456.28 L102.67,456.82 L105,457 L107.5,457.03 L110,456.79 L112.5,456.83 L115,457.41 L117.5,456.76 L120,457 L156,420 L158,393 L159,390.4 L161.9,384.4 L165.7,378.4 L169.4,376.9 L171.65,376.76 L173.9,376.9 L176,382 L179,392 L182,402 L185,412 L188,420 L190.5,428 L193.5,436 L195,438.2 L199.9,445.5 L204.8,451.3 L207,453.25 L209.2,454.95 L211.4,456.2 L214.65,456.88 L217.9,457.8 L220.35,458.67 L222.8,458.46 L225.25,459.27 L227.7,459.5 L230.17,459.89 L232.65,459.07 L235.12,459.14 L237.6,459.5 L240.08,459.54 L242.56,460.07 L245.04,460.4 L247.52,460.21 L250,460.3 L252.4,460.44 L254.8,459.95 L257.2,459.66 L259.6,459.5 L262.08,459.7 L264.55,459.04 L267.02,458.66 L269.5,458.6 L271.95,458.54 L274.4,458.13 L276.85,457.9 L279.3,457.8 L281.75,457.27 L284.2,457.48 L286.65,457.37 L289.1,457 L291.73,456.57 L294.37,455.93 L297,456 L299.44,455.9 L301.88,456.12 L304.32,455.77 L306.76,455.55 L309.2,455.5" fill="none" stroke="rgba(0,0,60,0.7)" stroke-width="0.55" stroke-linejoin="round"/>
<path d="M36.2,480.2 L36.2,465.3 L39.5,465.3 L42.7,466.1 L44.9,465.45 L47.1,465.97 L49.3,465.3 L52.55,465.4 L55.8,466.1 L58.8,465.22 L61.8,465.16 L64.8,464.4 L67.25,464.56 L69.7,464.63 L72.15,463.96 L74.6,464.4 L77.07,464.27 L79.55,464.79 L82.03,464.21 L84.5,464.4 L87.35,464.2 L90.2,463.6 L94,460.5 L96.75,462.14 L99.5,464.11 L102.25,465.6 L105,467.99 L107.75,469.8 L110.5,470.95 L113.25,472.86 L116,475 L120.3,450 L121.9,447.2 L124.4,439 L126.8,429.2 L128.4,423.1 L131.7,413.3 L134.3,402 L139.2,395.5 L141.65,394.07 L144.1,392.4 L147.05,392.03 L150,391.6 L152.3,391.53 L154.6,391.6 L158.7,392.2 L160.5,392.8 L163,394 L166,398 L169,404 L172,411 L176,420 L180.2,430 L183.5,439.8 L186.7,449.6 L190,457 L193,461 L198,475 L200.83,475.34 L203.67,475.23 L206.5,475 L206.5,461 L209.75,463.26 L213,465.2 L216.25,465.09 L219.5,465.2 L222.23,464.91 L224.97,465.34 L227.7,465.2 L230.17,465.15 L232.65,465.65 L235.12,465.52 L237.6,466 L240.08,465.64 L242.56,466.03 L245.04,466.11 L247.52,466.01 L250,466 L252.4,465.83 L254.8,464.89 L257.2,465.07 L259.6,464.4 L262.08,463.87 L264.55,463.69 L267.02,463.65 L269.5,463.5 L271.95,462.88 L274.4,463.13 L276.85,463.2 L279.3,462.7 L281.75,462.12 L284.2,462.65 L286.65,462.06 L289.1,462 L291.73,461.59 L294.37,461.6 L297,461.8 L299.3,461.95 L301.6,461.42 L303.9,461.67 L306.2,461.5 L306.2,480.2 Z" fill="#4040D0"/>
<polygon points="303.2,461.6 303.9,461.67 306.2,461.5 306.2,480.2 303.2,480.2" fill="#2C2CBE"/>
<path d="M36.2,480.2 L36.2,465.3 L39.5,465.3 L42.7,466.1 L44.9,465.45 L47.1,465.97 L49.3,465.3 L52.55,465.4 L55.8,466.1 L58.8,465.22 L61.8,465.16 L64.8,464.4 L67.25,464.56 L69.7,464.63 L72.15,463.96 L74.6,464.4 L77.07,464.27 L79.55,464.79 L82.03,464.21 L84.5,464.4 L87.35,464.2 L90.2,463.6 L94,460.5 L96.75,462.14 L99.5,464.11 L102.25,465.6 L105,467.99 L107.75,469.8 L110.5,470.95 L113.25,472.86 L116,475 L120.3,450 L121.9,447.2 L124.4,439 L126.8,429.2 L128.4,423.1 L131.7,413.3 L134.3,402 L139.2,395.5 L141.65,394.07 L144.1,392.4 L147.05,392.03 L150,391.6 L152.3,391.53 L154.6,391.6 L158.7,392.2 L160.5,392.8 L163,394 L166,398 L169,404 L172,411 L176,420 L180.2,430 L183.5,439.8 L186.7,449.6 L190,457 L193,461 L198,475 L200.83,475.34 L203.67,475.23 L206.5,475 L206.5,461 L209.75,463.26 L213,465.2 L216.25,465.09 L219.5,465.2 L222.23,464.91 L224.97,465.34 L227.7,465.2 L230.17,465.15 L232.65,465.65 L235.12,465.52 L237.6,466 L240.08,465.64 L242.56,466.03 L245.04,466.11 L247.52,466.01 L250,466 L252.4,465.83 L254.8,464.89 L257.2,465.07 L259.6,464.4 L262.08,463.87 L264.55,463.69 L267.02,463.65 L269.5,463.5 L271.95,462.88 L274.4,463.13 L276.85,463.2 L279.3,462.7 L281.75,462.12 L284.2,462.65 L286.65,462.06 L289.1,462 L291.73,461.59 L294.37,461.6 L297,461.8 L299.3,461.95 L301.6,461.42 L303.9,461.67 L306.2,461.5" fill="none" stroke="rgba(0,0,60,0.7)" stroke-width="0.55" stroke-linejoin="round"/>
<path d="M33.2,485.6 L33.2,470.2 L36.2,471.8 L39.45,470.82 L42.7,470.2 L45.15,471.37 L47.6,471.8 L50.1,473.32 L52.6,474.3 L55,470.9 L57.45,471.48 L59.9,470.95 L62.35,471.5 L64.8,471.7 L67.25,471.63 L69.7,471.62 L72.15,471.25 L74.6,470.9 L77.33,470.73 L80.07,470.72 L82.8,470.9 L85.25,470.17 L87.7,470.1 L91,465 L93.5,466.81 L96,467.81 L98.5,469.28 L101,471.06 L103.5,472.41 L106,473.72 L108.5,475.09 L111,477.36 L113.5,478.87 L116,480 L120,450 L121.6,447.4 L124.1,439.2 L126.5,429.4 L128.1,423.3 L131.4,413.5 L134.3,402.2 L139.2,395.7 L141.65,394.3 L144.1,392.6 L147.05,392.56 L150,391.8 L152.3,391.71 L154.6,391.8 L158.7,392.4 L160.5,393 L163,398 L166,407 L169,415 L171.4,420 L175.3,430 L178.6,441.5 L181.8,451.3 L185.1,459.5 L188,465 L193,480 L195.57,479.76 L198.14,479.95 L200.71,480.1 L203.29,479.99 L205.86,479.61 L208.43,479.86 L211,480 L216.3,472.4 L219.5,470.9 L222.23,470.37 L224.97,470.03 L227.7,470.1 L230.17,470.16 L232.65,470.74 L235.12,470.52 L237.6,470.9 L240.08,470.6 L242.56,470.75 L245.04,471.34 L247.52,470.84 L250,470.9 L252.4,470.14 L254.8,470.32 L257.2,469.37 L259.6,469.3 L262.08,468.95 L264.55,469.14 L267.02,468.63 L269.5,468.5 L271.95,468.9 L274.4,468.08 L276.85,468.72 L279.3,468.5 L281.75,468.6 L284.2,468.43 L286.65,467.51 L289.1,467.5 L291.73,467.09 L294.37,466.9 L297,466.5 L300.1,466.11 L303.2,466.5 L303.2,485.6 Z" fill="#5555E0"/>
<polygon points="300.2,466.13 303.2,466.5 303.2,485.6 300.2,485.6" fill="#4040D0"/>
<path d="M33.2,485.6 L33.2,470.2 L36.2,471.8 L39.45,470.82 L42.7,470.2 L45.15,471.37 L47.6,471.8 L50.1,473.32 L52.6,474.3 L55,470.9 L57.45,471.48 L59.9,470.95 L62.35,471.5 L64.8,471.7 L67.25,471.63 L69.7,471.62 L72.15,471.25 L74.6,470.9 L77.33,470.73 L80.07,470.72 L82.8,470.9 L85.25,470.17 L87.7,470.1 L91,465 L93.5,466.81 L96,467.81 L98.5,469.28 L101,471.06 L103.5,472.41 L106,473.72 L108.5,475.09 L111,477.36 L113.5,478.87 L116,480 L120,450 L121.6,447.4 L124.1,439.2 L126.5,429.4 L128.1,423.3 L131.4,413.5 L134.3,402.2 L139.2,395.7 L141.65,394.3 L144.1,392.6 L147.05,392.56 L150,391.8 L152.3,391.71 L154.6,391.8 L158.7,392.4 L160.5,393 L163,398 L166,407 L169,415 L171.4,420 L175.3,430 L178.6,441.5 L181.8,451.3 L185.1,459.5 L188,465 L193,480 L195.57,479.76 L198.14,479.95 L200.71,480.1 L203.29,479.99 L205.86,479.61 L208.43,479.86 L211,480 L216.3,472.4 L219.5,470.9 L222.23,470.37 L224.97,470.03 L227.7,470.1 L230.17,470.16 L232.65,470.74 L235.12,470.52 L237.6,470.9 L240.08,470.6 L242.56,470.75 L245.04,471.34 L247.52,470.84 L250,470.9 L252.4,470.14 L254.8,470.32 L257.2,469.37 L259.6,469.3 L262.08,468.95 L264.55,469.14 L267.02,468.63 L269.5,468.5 L271.95,468.9 L274.4,468.08 L276.85,468.72 L279.3,468.5 L281.75,468.6 L284.2,468.43 L286.65,467.51 L289.1,467.5 L291.73,467.09 L294.37,466.9 L297,466.5 L300.1,466.11 L303.2,466.5" fill="none" stroke="rgba(0,0,60,0.7)" stroke-width="0.55" stroke-linejoin="round"/>
<path d="M30.2,491 L30.2,473 L32.35,474.09 L34.5,474.3 L37,475.01 L39.5,475.1 L42.7,475.9 L45.15,477.59 L47.6,479.2 L50.1,479.62 L52.6,480 L55,475.8 L57.67,475.64 L60.33,476.74 L63,476.6 L65.8,476.31 L68.6,476.83 L71.4,476.6 L74.1,476.68 L76.8,476.35 L79.5,476.6 L82.4,475.57 L85.3,474.2 L88,470 L116,485 L119.7,450 L121.3,447.6 L123.8,439.4 L126.2,429.6 L127.8,423.5 L131.1,413.7 L134.3,402.4 L139.2,395.9 L141.65,394.46 L144.1,392.8 L147.05,392.67 L150,392 L152.3,392.4 L154.6,392 L157.9,395.3 L161.2,402.6 L165.3,415.7 L167,420 L170.4,430 L173.6,441.5 L176.9,452.9 L180.2,461.9 L184,470 L190,485 L216,485 L221.2,477.3 L224.5,476.6 L227.2,476.71 L229.9,476.25 L232.6,475.8 L235.33,476.32 L238.07,476.72 L240.8,476.6 L243.1,476.74 L245.4,476.02 L247.7,475.6 L250,475.8 L253.2,475.26 L256.4,474.2 L259.1,474.43 L261.8,474.64 L264.5,475 L267.23,474.06 L269.97,474.22 L272.7,473.4 L275.43,473.43 L278.17,473.58 L280.9,474.2 L283.63,473.46 L286.37,472.78 L289.1,472.6 L292.05,471.88 L295,472 L297.6,471.57 L300.2,472 L300.2,491 Z" fill="#6868EC"/>
<polygon points="297.1,471.65 297.6,471.57 300.2,472 300.2,491 297.1,491" fill="#5555E0"/>
<path d="M30.2,491 L30.2,473 L32.35,474.09 L34.5,474.3 L37,475.01 L39.5,475.1 L42.7,475.9 L45.15,477.59 L47.6,479.2 L50.1,479.62 L52.6,480 L55,475.8 L57.67,475.64 L60.33,476.74 L63,476.6 L65.8,476.31 L68.6,476.83 L71.4,476.6 L74.1,476.68 L76.8,476.35 L79.5,476.6 L82.4,475.57 L85.3,474.2 L88,470 L116,485 L119.7,450 L121.3,447.6 L123.8,439.4 L126.2,429.6 L127.8,423.5 L131.1,413.7 L134.3,402.4 L139.2,395.9 L141.65,394.46 L144.1,392.8 L147.05,392.67 L150,392 L152.3,392.4 L154.6,392 L157.9,395.3 L161.2,402.6 L165.3,415.7 L167,420 L170.4,430 L173.6,441.5 L176.9,452.9 L180.2,461.9 L184,470 L190,485 L216,485 L221.2,477.3 L224.5,476.6 L227.2,476.71 L229.9,476.25 L232.6,475.8 L235.33,476.32 L238.07,476.72 L240.8,476.6 L243.1,476.74 L245.4,476.02 L247.7,475.6 L250,475.8 L253.2,475.26 L256.4,474.2 L259.1,474.43 L261.8,474.64 L264.5,475 L267.23,474.06 L269.97,474.22 L272.7,473.4 L275.43,473.43 L278.17,473.58 L280.9,474.2 L283.63,473.46 L286.37,472.78 L289.1,472.6 L292.05,471.88 L295,472 L297.6,471.57 L300.2,472" fill="none" stroke="rgba(0,0,60,0.7)" stroke-width="0.55" stroke-linejoin="round"/>
<path d="M27.1,496.4 L27.1,479.5 L29.55,479.87 L32,480.5 L34.67,480.8 L37.33,480.85 L40,481.5 L42.33,481.71 L44.67,482.36 L47,483 L49.67,481.67 L52.33,480.03 L55,479.1 L57.73,479.23 L60.47,480.38 L63.2,480.7 L65.93,481.29 L68.67,480.86 L71.4,481.6 L74.65,481.49 L77.9,480.7 L80.75,479.19 L83.6,477.5 L86,474 L116,490 L119.4,450 L121,447.8 L123.5,439.6 L125.9,429.8 L127.5,423.7 L130.8,413.9 L134.3,402.6 L139.2,396.1 L143.2,393.6 L146.45,392.85 L149.7,392.8 L153,396.9 L156.3,404.3 L159.5,414 L162.5,420 L165.5,430 L169.5,443.1 L172.8,454.5 L176.1,463.6 L180,470 L185,490 L222,490 L226.1,482 L229.4,481.6 L232.13,481.44 L234.87,481.2 L237.6,480.7 L240.85,481.07 L244.1,480.7 L247.05,480.45 L250,480.7 L253.2,479.58 L256.4,478.3 L259.2,478.96 L262,479.1 L264.9,478.18 L267.8,477.5 L270.25,478.68 L272.7,479.1 L274.9,478.22 L277.1,478.37 L279.3,477.5 L282.55,478.67 L285.8,479.1 L288,478.95 L290.2,478.52 L292.4,478.3 L294.75,478.5 L297.1,478 L297.1,496.4 Z" fill="#7878F4"/>
<polygon points="294.1,478.44 294.75,478.5 297.1,478 297.1,496.4 294.1,496.4" fill="#6868EC"/>
<path d="M27.1,496.4 L27.1,479.5 L29.55,479.87 L32,480.5 L34.67,480.8 L37.33,480.85 L40,481.5 L42.33,481.71 L44.67,482.36 L47,483 L49.67,481.67 L52.33,480.03 L55,479.1 L57.73,479.23 L60.47,480.38 L63.2,480.7 L65.93,481.29 L68.67,480.86 L71.4,481.6 L74.65,481.49 L77.9,480.7 L80.75,479.19 L83.6,477.5 L86,474 L116,490 L119.4,450 L121,447.8 L123.5,439.6 L125.9,429.8 L127.5,423.7 L130.8,413.9 L134.3,402.6 L139.2,396.1 L143.2,393.6 L146.45,392.85 L149.7,392.8 L153,396.9 L156.3,404.3 L159.5,414 L162.5,420 L165.5,430 L169.5,443.1 L172.8,454.5 L176.1,463.6 L180,470 L185,490 L222,490 L226.1,482 L229.4,481.6 L232.13,481.44 L234.87,481.2 L237.6,480.7 L240.85,481.07 L244.1,480.7 L247.05,480.45 L250,480.7 L253.2,479.58 L256.4,478.3 L259.2,478.96 L262,479.1 L264.9,478.18 L267.8,477.5 L270.25,478.68 L272.7,479.1 L274.9,478.22 L277.1,478.37 L279.3,477.5 L282.55,478.67 L285.8,479.1 L288,478.95 L290.2,478.52 L292.4,478.3 L294.75,478.5 L297.1,478" fill="none" stroke="rgba(0,0,60,0.7)" stroke-width="0.55" stroke-linejoin="round"/>
<path d="M24.1,501.8 L24.1,495 L55,495 L55,482.4 L57.73,482.69 L60.47,483.03 L63.2,484 L65.93,484.06 L68.67,484.39 L71.4,484.8 L73.85,484.82 L76.3,484 L80,482 L116,495 L118,450 L119.6,448 L122.1,439.8 L124.5,430 L126.1,423.9 L129.4,414.1 L132,408 L135,404.3 L138,400.5 L141.5,398.6 L144,398.43 L146.5,398.6 L149.7,402.6 L153,410.8 L155.2,417 L157.1,420 L159.5,430 L161.4,434 L164.6,442 L168.7,452.9 L172,462.7 L175,468 L180,495 L230,495 L236,487 L240,484.8 L242.73,483.96 L245.47,483.36 L248.2,483.2 L250.93,483.19 L253.67,482.28 L256.4,482.4 L258.7,483.54 L261,484 L263.6,482.57 L266.2,481.6 L268.6,482.64 L271,483.2 L273.5,482.01 L276,480.7 L278.5,481.4 L281,483 L284.25,482.52 L287.5,482.4 L291.6,483.2 L294.1,483 L294.1,501.8 Z" fill="#8888FA"/>
<polygon points="291.1,483.1 291.6,483.2 294.1,483 294.1,501.8 291.1,501.8" fill="#7878F4"/>
<path d="M24.1,501.8 L24.1,495 L55,495 L55,482.4 L57.73,482.69 L60.47,483.03 L63.2,484 L65.93,484.06 L68.67,484.39 L71.4,484.8 L73.85,484.82 L76.3,484 L80,482 L116,495 L118,450 L119.6,448 L122.1,439.8 L124.5,430 L126.1,423.9 L129.4,414.1 L132,408 L135,404.3 L138,400.5 L141.5,398.6 L144,398.43 L146.5,398.6 L149.7,402.6 L153,410.8 L155.2,417 L157.1,420 L159.5,430 L161.4,434 L164.6,442 L168.7,452.9 L172,462.7 L175,468 L180,495 L230,495 L236,487 L240,484.8 L242.73,483.96 L245.47,483.36 L248.2,483.2 L250.93,483.19 L253.67,482.28 L256.4,482.4 L258.7,483.54 L261,484 L263.6,482.57 L266.2,481.6 L268.6,482.64 L271,483.2 L273.5,482.01 L276,480.7 L278.5,481.4 L281,483 L284.25,482.52 L287.5,482.4 L291.6,483.2 L294.1,483" fill="none" stroke="rgba(0,0,60,0.7)" stroke-width="0.55" stroke-linejoin="round"/>
<path d="M21.1,507.2 L21.1,480.8 L23.75,480.63 L26.4,480.5 L29.65,480.36 L32.9,480 L35.1,480.67 L37.3,480.52 L39.5,480.8 L41.95,480.97 L44.4,481.6 L47.6,483.3 L50.1,483.57 L52.6,484.1 L55,484 L59.1,484.5 L63.2,486.5 L65.93,486.89 L68.67,486.64 L71.4,486.5 L73.85,486 L76.3,484.8 L78.75,482.63 L81.2,480.7 L86.1,473.4 L90.2,464.4 L94.3,460.3 L98.4,457 L100.5,452.5 L102.5,448.8 L104.9,445.3 L106.5,446 L108.2,447.2 L110.6,448.8 L113.9,446.4 L116.4,448 L119.6,452.9 L124.5,459.5 L129.5,465.2 L131.95,467.43 L134.4,469.3 L136.85,470.89 L139.3,471.7 L141.75,472.21 L144.2,473.4 L146.65,473.28 L149.1,472.6 L151.5,471.7 L153.7,471.8 L155.9,471.58 L158.1,470.9 L160.55,471.42 L163,472.6 L165.45,471.07 L167.9,470.1 L170.35,468.82 L172.8,466.8 L175.25,465.52 L177.7,464.4 L180.15,462.95 L182.6,461.9 L185.1,460.39 L187.6,458.6 L191.6,456.2 L195.7,456.2 L199,457.5 L201.5,457.8 L204,459.29 L206.5,461.1 L211.4,466.8 L216.3,472.6 L221.2,477.5 L226.1,482.4 L228.55,483.88 L231,485.6 L233.45,486.35 L235.9,487.3 L238.1,487.04 L240.3,487.6 L242.5,487.3 L245.35,487.07 L248.2,486.5 L250.93,485.6 L253.67,485.08 L256.4,484.8 L259.1,484.64 L261.8,485.28 L264.5,485.6 L267.23,485.49 L269.97,485.05 L272.7,484.8 L275.47,484.79 L278.23,485.43 L281,485.6 L283.52,486.03 L286.05,485.61 L288.58,485.96 L291.1,486.5 L291.1,507.2 Z" fill="#9999FF"/>
<path d="M21.1,507.2 L21.1,480.8 L23.75,480.63 L26.4,480.5 L29.65,480.36 L32.9,480 L35.1,480.67 L37.3,480.52 L39.5,480.8 L41.95,480.97 L44.4,481.6 L47.6,483.3 L50.1,483.57 L52.6,484.1 L55,484 L59.1,484.5 L63.2,486.5 L65.93,486.89 L68.67,486.64 L71.4,486.5 L73.85,486 L76.3,484.8 L78.75,482.63 L81.2,480.7 L86.1,473.4 L90.2,464.4 L94.3,460.3 L98.4,457 L100.5,452.5 L102.5,448.8 L104.9,445.3 L106.5,446 L108.2,447.2 L110.6,448.8 L113.9,446.4 L116.4,448 L119.6,452.9 L124.5,459.5 L129.5,465.2 L131.95,467.43 L134.4,469.3 L136.85,470.89 L139.3,471.7 L141.75,472.21 L144.2,473.4 L146.65,473.28 L149.1,472.6 L151.5,471.7 L153.7,471.8 L155.9,471.58 L158.1,470.9 L160.55,471.42 L163,472.6 L165.45,471.07 L167.9,470.1 L170.35,468.82 L172.8,466.8 L175.25,465.52 L177.7,464.4 L180.15,462.95 L182.6,461.9 L185.1,460.39 L187.6,458.6 L191.6,456.2 L195.7,456.2 L199,457.5 L201.5,457.8 L204,459.29 L206.5,461.1 L211.4,466.8 L216.3,472.6 L221.2,477.5 L226.1,482.4 L228.55,483.88 L231,485.6 L233.45,486.35 L235.9,487.3 L238.1,487.04 L240.3,487.6 L242.5,487.3 L245.35,487.07 L248.2,486.5 L250.93,485.6 L253.67,485.08 L256.4,484.8 L259.1,484.64 L261.8,485.28 L264.5,485.6 L267.23,485.49 L269.97,485.05 L272.7,484.8 L275.47,484.79 L278.23,485.43 L281,485.6 L283.52,486.03 L286.05,485.61 L288.58,485.96 L291.1,486.5" fill="none" stroke="rgba(0,0,60,0.7)" stroke-width="0.55" stroke-linejoin="round"/>
</g>
<g id="axes">
<line x1="18.4" y1="148.3" x2="282.5" y2="148.3" stroke="#505050" stroke-width="0.8"/>
<line x1="18.5" y1="148.3" x2="18.5" y2="151.3" stroke="#505050" stroke-width="0.6"/>
<line x1="94" y1="148.3" x2="94" y2="151.3" stroke="#505050" stroke-width="0.6"/>
<line x1="169" y1="148.3" x2="169" y2="151.3" stroke="#505050" stroke-width="0.6"/>
<line x1="244.3" y1="148.3" x2="244.3" y2="151.3" stroke="#505050" stroke-width="0.6"/>
<line x1="56.3" y1="148.3" x2="56.3" y2="149.9" stroke="#505050" stroke-width="0.6"/>
<line x1="131.5" y1="148.3" x2="131.5" y2="149.9" stroke="#505050" stroke-width="0.6"/>
<line x1="206.7" y1="148.3" x2="206.7" y2="149.9" stroke="#505050" stroke-width="0.6"/>
<line x1="17.9" y1="328.5" x2="286.4" y2="328.5" stroke="#505050" stroke-width="0.8"/>
<line x1="17.9" y1="328.5" x2="17.9" y2="331.5" stroke="#505050" stroke-width="0.6"/>
<line x1="94.25" y1="328.5" x2="94.25" y2="331.5" stroke="#505050" stroke-width="0.6"/>
<line x1="170.6" y1="328.5" x2="170.6" y2="331.5" stroke="#505050" stroke-width="0.6"/>
<line x1="247" y1="328.5" x2="247" y2="331.5" stroke="#505050" stroke-width="0.6"/>
<line x1="56.1" y1="328.5" x2="56.1" y2="330.1" stroke="#505050" stroke-width="0.6"/>
<line x1="132.4" y1="328.5" x2="132.4" y2="330.1" stroke="#505050" stroke-width="0.6"/>
<line x1="208.8" y1="328.5" x2="208.8" y2="330.1" stroke="#505050" stroke-width="0.6"/>
<line x1="18.2" y1="512.2" x2="288" y2="512.2" stroke="#505050" stroke-width="0.8"/>
<line x1="18.2" y1="512.2" x2="18.2" y2="515.2" stroke="#505050" stroke-width="0.6"/>
<line x1="94.6" y1="512.2" x2="94.6" y2="515.2" stroke="#505050" stroke-width="0.6"/>
<line x1="172" y1="512.2" x2="172" y2="515.2" stroke="#505050" stroke-width="0.6"/>
<line x1="249" y1="512.2" x2="249" y2="515.2" stroke="#505050" stroke-width="0.6"/>
<line x1="56.4" y1="512.2" x2="56.4" y2="513.8" stroke="#505050" stroke-width="0.6"/>
<line x1="133.4" y1="512.2" x2="133.4" y2="513.8" stroke="#505050" stroke-width="0.6"/>
<line x1="210.5" y1="512.2" x2="210.5" y2="513.8" stroke="#505050" stroke-width="0.6"/>
</g>
<g id="labels">
<text class="tt" x="13.8" y="15">ZSM-5c_20</text>
<text class="ax" x="18.7" y="157.5" text-anchor="middle">12.90</text>
<text class="ax" x="94" y="157.5" text-anchor="middle">13</text>
<text class="ax" x="169" y="157.5" text-anchor="middle">13.10</text>
<text class="ax" x="244.3" y="157.5" text-anchor="middle">13.20</text>
<text class="ax" x="162.5" y="165.3" text-anchor="middle">Position [°2Theta]</text>
<text class="cap" x="169.1" y="179.6" text-anchor="middle">(a)</text>
<text class="bl" x="137.2" y="71.5" text-anchor="middle">133-313</text>
<text class="it" x="139.5" y="79" text-anchor="middle">orthorhombic</text>
<text class="it" x="139.5" y="85.6" text-anchor="middle">Pnma</text>
<text class="bl" transform="translate(115.8,106.2) rotate(-90)" text-anchor="middle">135-315</text>
<text class="bl" transform="translate(152.1,124.6) rotate(-90)" text-anchor="middle">133-313</text>
<text class="it" x="128.2" y="124.4" text-anchor="middle">monoclinc</text>
<text class="it" x="128.2" y="130.9" text-anchor="middle">P2<tspan font-size="3.4px" dy="0.9">1</tspan><tspan dy="-0.9">/n</tspan></text>
<text class="ax" x="288.8" y="144.7">25</text>
<text class="ax" x="292.5" y="138.25">100</text>
<text class="ax" x="296.2" y="131.8">200</text>
<text class="ax" x="299.9" y="125.35">300</text>
<text class="ax" x="303.6" y="118.9">400</text>
<text class="ax" x="307.3" y="112.45">500</text>
<text class="ax" x="311" y="106">600</text>
<text class="ax" x="314.7" y="99.55">700</text>
<text class="ax" x="318.4" y="93.1">800</text>
<text class="ax" x="285.5" y="151"><tspan font-style="italic">T</tspan> (°C)</text>
<text class="tt" x="13.8" y="195">ZSM-5c_37</text>
<text class="ax" x="17.9" y="337.8" text-anchor="middle">12.90</text>
<text class="ax" x="94.25" y="337.8" text-anchor="middle">13</text>
<text class="ax" x="170.6" y="337.8" text-anchor="middle">13.10</text>
<text class="ax" x="247" y="337.8" text-anchor="middle">13.20</text>
<text class="ax" x="164.4" y="346" text-anchor="middle">Position [°2Theta]</text>
<text class="cap" x="169" y="361.3" text-anchor="middle">(b)</text>
<text class="bl" x="135.5" y="258.2" text-anchor="middle">133-313</text>
<text class="it" x="135" y="266.2" text-anchor="middle">orthorhombic</text>
<text class="it" x="135.1" y="272.8" text-anchor="middle">Pnma</text>
<text class="bl" transform="translate(106.9,296.2) rotate(-90)" text-anchor="middle">135-315</text>
<text class="bl" transform="translate(195,299.5) rotate(-90)" text-anchor="middle">133-313</text>
<text class="it" x="145.7" y="303.9" text-anchor="middle">monoclinc</text>
<text class="it" x="145.4" y="310.6" text-anchor="middle">P2<tspan font-size="3.4px" dy="0.9">1</tspan><tspan dy="-0.9">/n</tspan></text>
<text class="ax" x="292.1" y="325.3">25</text>
<text class="ax" x="295.4" y="319.37">100</text>
<text class="ax" x="298.7" y="313.44">200</text>
<text class="ax" x="302" y="307.51">300</text>
<text class="ax" x="305.3" y="301.58">400</text>
<text class="ax" x="308.6" y="295.65">500</text>
<text class="ax" x="311.9" y="289.72">600</text>
<text class="ax" x="315.2" y="283.79">700</text>
<text class="ax" x="318.5" y="277.86">800</text>
<text class="ax" x="288.3" y="331.7"><tspan font-style="italic">T</tspan> (°C)</text>
<text class="tt" x="13.8" y="375.5">ZSM-5c_69</text>
<text class="ax" x="18.2" y="521.7" text-anchor="middle">12.90</text>
<text class="ax" x="94.6" y="521.7" text-anchor="middle">13</text>
<text class="ax" x="172" y="521.7" text-anchor="middle">13.10</text>
<text class="ax" x="249" y="521.7" text-anchor="middle">13.20</text>
<text class="ax" x="165.4" y="529.8" text-anchor="middle">Position [°2Theta]</text>
<text class="cap" x="169.5" y="545" text-anchor="middle">(c)</text>
<text class="bl" x="142.1" y="434.1" text-anchor="middle">133-313</text>
<text class="it" x="143.3" y="443.9" text-anchor="middle">orthorhombic</text>
<text class="it" x="143.4" y="450.6" text-anchor="middle">Pnma</text>
<text class="bl" transform="translate(110.3,472.1) rotate(-90)" text-anchor="middle">135-315</text>
<text class="bl" transform="translate(196.9,477.9) rotate(-90)" text-anchor="middle">133-313</text>
<text class="it" x="148.3" y="488.8" text-anchor="middle">monoclinc</text>
<text class="it" x="148.6" y="495.4" text-anchor="middle">P2<tspan font-size="3.4px" dy="0.9">1</tspan><tspan dy="-0.9">/n</tspan></text>
<text class="ax" x="294.4" y="509.5">25</text>
<text class="ax" x="296.65" y="504.14">100</text>
<text class="ax" x="299.4" y="498.78">200</text>
<text class="ax" x="302.15" y="493.42">300</text>
<text class="ax" x="304.9" y="488.06">400</text>
<text class="ax" x="307.65" y="482.7">500</text>
<text class="ax" x="310.4" y="477.34">600</text>
<text class="ax" x="313.15" y="471.98">700</text>
<text class="ax" x="315.9" y="466.62">800</text>
<text class="ax" x="291.4" y="516.1"><tspan font-style="italic">T</tspan> (°C)</text>
</g>
</svg></body></html>
